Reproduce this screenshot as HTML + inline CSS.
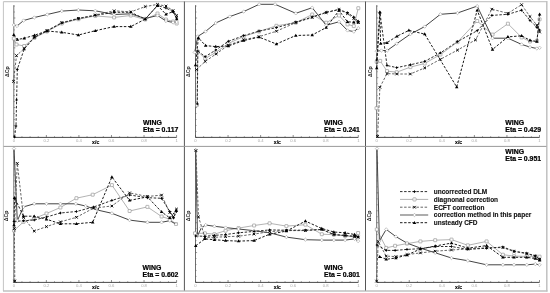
<!DOCTYPE html>
<html><head><meta charset="utf-8"><title>Delta Cp comparison</title>
<style>html,body{margin:0;padding:0;background:#fff;width:550px;height:293px;overflow:hidden;}svg{display:block;}</style>
</head><body>
<svg width="550" height="293" viewBox="0 0 550 293">
<style>
text{font-family:"Liberation Sans",Arial,sans-serif;}
.tk{font-size:4.2px;fill:#a8a8a8;text-anchor:middle;}
.xc{font-size:5.2px;font-weight:bold;fill:#000;stroke:#000;stroke-width:0.12px;}
.dcp{font-size:5.2px;font-weight:bold;fill:#222;text-anchor:middle;}
.wg{font-size:6.9px;font-weight:bold;fill:#000;stroke:#000;stroke-width:0.22px;}
.lg{font-size:6.5px;font-weight:bold;fill:#111;stroke:#111;stroke-width:0.12px;}
</style>
<rect width="550" height="293" fill="#fff"/>
<line x1="3.5" y1="1.7" x2="546.8" y2="1.7" stroke="#c8c8c8" stroke-width="1.3"/><line x1="3.4" y1="1.5" x2="3.4" y2="291" stroke="#c4c4c4" stroke-width="1"/><line x1="546.8" y1="1" x2="546.8" y2="291.6" stroke="#c0c0c0" stroke-width="1.5"/><line x1="3" y1="290.9" x2="547.5" y2="290.9" stroke="#c0c0c0" stroke-width="1.5"/><line x1="184.4" y1="1.5" x2="184.4" y2="290.5" stroke="#555" stroke-width="1"/><line x1="365.5" y1="1.5" x2="365.5" y2="290.5" stroke="#555" stroke-width="1"/><line x1="3.5" y1="146.4" x2="546.5" y2="146.4" stroke="#9a9a9a" stroke-width="1"/>
<line x1="13.8" y1="5.2" x2="13.8" y2="137.4" stroke="#555" stroke-width="0.85"/><line x1="13.8" y1="137.4" x2="15.4" y2="137.4" stroke="#555" stroke-width="0.6"/><line x1="13.8" y1="131.43" x2="14.8" y2="131.43" stroke="#555" stroke-width="0.6"/><line x1="13.8" y1="125.46" x2="14.8" y2="125.46" stroke="#555" stroke-width="0.6"/><line x1="13.8" y1="119.49" x2="14.8" y2="119.49" stroke="#555" stroke-width="0.6"/><line x1="13.8" y1="113.52" x2="14.8" y2="113.52" stroke="#555" stroke-width="0.6"/><line x1="13.8" y1="107.55" x2="15.4" y2="107.55" stroke="#555" stroke-width="0.6"/><line x1="13.8" y1="101.58" x2="14.8" y2="101.58" stroke="#555" stroke-width="0.6"/><line x1="13.8" y1="95.61" x2="14.8" y2="95.61" stroke="#555" stroke-width="0.6"/><line x1="13.8" y1="89.64" x2="14.8" y2="89.64" stroke="#555" stroke-width="0.6"/><line x1="13.8" y1="83.67" x2="14.8" y2="83.67" stroke="#555" stroke-width="0.6"/><line x1="13.8" y1="77.7" x2="15.4" y2="77.7" stroke="#555" stroke-width="0.6"/><line x1="13.8" y1="71.73" x2="14.8" y2="71.73" stroke="#555" stroke-width="0.6"/><line x1="13.8" y1="65.76" x2="14.8" y2="65.76" stroke="#555" stroke-width="0.6"/><line x1="13.8" y1="59.79" x2="14.8" y2="59.79" stroke="#555" stroke-width="0.6"/><line x1="13.8" y1="53.82" x2="14.8" y2="53.82" stroke="#555" stroke-width="0.6"/><line x1="13.8" y1="47.85" x2="15.4" y2="47.85" stroke="#555" stroke-width="0.6"/><line x1="13.8" y1="41.88" x2="14.8" y2="41.88" stroke="#555" stroke-width="0.6"/><line x1="13.8" y1="35.91" x2="14.8" y2="35.91" stroke="#555" stroke-width="0.6"/><line x1="13.8" y1="29.94" x2="14.8" y2="29.94" stroke="#555" stroke-width="0.6"/><line x1="13.8" y1="23.97" x2="14.8" y2="23.97" stroke="#555" stroke-width="0.6"/><line x1="13.8" y1="18" x2="15.4" y2="18" stroke="#555" stroke-width="0.6"/><line x1="13.8" y1="12.03" x2="14.8" y2="12.03" stroke="#555" stroke-width="0.6"/><line x1="13.8" y1="6.06" x2="14.8" y2="6.06" stroke="#555" stroke-width="0.6"/><line x1="13.8" y1="137.4" x2="176.6" y2="137.4" stroke="#333" stroke-width="0.9"/><line x1="13.8" y1="137.4" x2="13.8" y2="135" stroke="#444" stroke-width="0.6"/><line x1="21.94" y1="137.4" x2="21.94" y2="136.3" stroke="#444" stroke-width="0.6"/><line x1="30.08" y1="137.4" x2="30.08" y2="136.3" stroke="#444" stroke-width="0.6"/><line x1="38.22" y1="137.4" x2="38.22" y2="136.3" stroke="#444" stroke-width="0.6"/><line x1="46.36" y1="137.4" x2="46.36" y2="135" stroke="#444" stroke-width="0.6"/><line x1="54.5" y1="137.4" x2="54.5" y2="136.3" stroke="#444" stroke-width="0.6"/><line x1="62.64" y1="137.4" x2="62.64" y2="136.3" stroke="#444" stroke-width="0.6"/><line x1="70.78" y1="137.4" x2="70.78" y2="136.3" stroke="#444" stroke-width="0.6"/><line x1="78.92" y1="137.4" x2="78.92" y2="135" stroke="#444" stroke-width="0.6"/><line x1="87.06" y1="137.4" x2="87.06" y2="136.3" stroke="#444" stroke-width="0.6"/><line x1="95.2" y1="137.4" x2="95.2" y2="136.3" stroke="#444" stroke-width="0.6"/><line x1="103.34" y1="137.4" x2="103.34" y2="136.3" stroke="#444" stroke-width="0.6"/><line x1="111.48" y1="137.4" x2="111.48" y2="135" stroke="#444" stroke-width="0.6"/><line x1="119.62" y1="137.4" x2="119.62" y2="136.3" stroke="#444" stroke-width="0.6"/><line x1="127.76" y1="137.4" x2="127.76" y2="136.3" stroke="#444" stroke-width="0.6"/><line x1="135.9" y1="137.4" x2="135.9" y2="136.3" stroke="#444" stroke-width="0.6"/><line x1="144.04" y1="137.4" x2="144.04" y2="135" stroke="#444" stroke-width="0.6"/><line x1="152.18" y1="137.4" x2="152.18" y2="136.3" stroke="#444" stroke-width="0.6"/><line x1="160.32" y1="137.4" x2="160.32" y2="136.3" stroke="#444" stroke-width="0.6"/><line x1="168.46" y1="137.4" x2="168.46" y2="136.3" stroke="#444" stroke-width="0.6"/><line x1="176.6" y1="137.4" x2="176.6" y2="135" stroke="#444" stroke-width="0.6"/><line x1="195.5" y1="5.2" x2="195.5" y2="137.4" stroke="#555" stroke-width="0.85"/><line x1="195.5" y1="137.4" x2="197.1" y2="137.4" stroke="#555" stroke-width="0.6"/><line x1="195.5" y1="131.43" x2="196.5" y2="131.43" stroke="#555" stroke-width="0.6"/><line x1="195.5" y1="125.46" x2="196.5" y2="125.46" stroke="#555" stroke-width="0.6"/><line x1="195.5" y1="119.49" x2="196.5" y2="119.49" stroke="#555" stroke-width="0.6"/><line x1="195.5" y1="113.52" x2="196.5" y2="113.52" stroke="#555" stroke-width="0.6"/><line x1="195.5" y1="107.55" x2="197.1" y2="107.55" stroke="#555" stroke-width="0.6"/><line x1="195.5" y1="101.58" x2="196.5" y2="101.58" stroke="#555" stroke-width="0.6"/><line x1="195.5" y1="95.61" x2="196.5" y2="95.61" stroke="#555" stroke-width="0.6"/><line x1="195.5" y1="89.64" x2="196.5" y2="89.64" stroke="#555" stroke-width="0.6"/><line x1="195.5" y1="83.67" x2="196.5" y2="83.67" stroke="#555" stroke-width="0.6"/><line x1="195.5" y1="77.7" x2="197.1" y2="77.7" stroke="#555" stroke-width="0.6"/><line x1="195.5" y1="71.73" x2="196.5" y2="71.73" stroke="#555" stroke-width="0.6"/><line x1="195.5" y1="65.76" x2="196.5" y2="65.76" stroke="#555" stroke-width="0.6"/><line x1="195.5" y1="59.79" x2="196.5" y2="59.79" stroke="#555" stroke-width="0.6"/><line x1="195.5" y1="53.82" x2="196.5" y2="53.82" stroke="#555" stroke-width="0.6"/><line x1="195.5" y1="47.85" x2="197.1" y2="47.85" stroke="#555" stroke-width="0.6"/><line x1="195.5" y1="41.88" x2="196.5" y2="41.88" stroke="#555" stroke-width="0.6"/><line x1="195.5" y1="35.91" x2="196.5" y2="35.91" stroke="#555" stroke-width="0.6"/><line x1="195.5" y1="29.94" x2="196.5" y2="29.94" stroke="#555" stroke-width="0.6"/><line x1="195.5" y1="23.97" x2="196.5" y2="23.97" stroke="#555" stroke-width="0.6"/><line x1="195.5" y1="18" x2="197.1" y2="18" stroke="#555" stroke-width="0.6"/><line x1="195.5" y1="12.03" x2="196.5" y2="12.03" stroke="#555" stroke-width="0.6"/><line x1="195.5" y1="6.06" x2="196.5" y2="6.06" stroke="#555" stroke-width="0.6"/><line x1="195.5" y1="137.4" x2="358.3" y2="137.4" stroke="#333" stroke-width="0.9"/><line x1="195.5" y1="137.4" x2="195.5" y2="135" stroke="#444" stroke-width="0.6"/><line x1="203.64" y1="137.4" x2="203.64" y2="136.3" stroke="#444" stroke-width="0.6"/><line x1="211.78" y1="137.4" x2="211.78" y2="136.3" stroke="#444" stroke-width="0.6"/><line x1="219.92" y1="137.4" x2="219.92" y2="136.3" stroke="#444" stroke-width="0.6"/><line x1="228.06" y1="137.4" x2="228.06" y2="135" stroke="#444" stroke-width="0.6"/><line x1="236.2" y1="137.4" x2="236.2" y2="136.3" stroke="#444" stroke-width="0.6"/><line x1="244.34" y1="137.4" x2="244.34" y2="136.3" stroke="#444" stroke-width="0.6"/><line x1="252.48" y1="137.4" x2="252.48" y2="136.3" stroke="#444" stroke-width="0.6"/><line x1="260.62" y1="137.4" x2="260.62" y2="135" stroke="#444" stroke-width="0.6"/><line x1="268.76" y1="137.4" x2="268.76" y2="136.3" stroke="#444" stroke-width="0.6"/><line x1="276.9" y1="137.4" x2="276.9" y2="136.3" stroke="#444" stroke-width="0.6"/><line x1="285.04" y1="137.4" x2="285.04" y2="136.3" stroke="#444" stroke-width="0.6"/><line x1="293.18" y1="137.4" x2="293.18" y2="135" stroke="#444" stroke-width="0.6"/><line x1="301.32" y1="137.4" x2="301.32" y2="136.3" stroke="#444" stroke-width="0.6"/><line x1="309.46" y1="137.4" x2="309.46" y2="136.3" stroke="#444" stroke-width="0.6"/><line x1="317.6" y1="137.4" x2="317.6" y2="136.3" stroke="#444" stroke-width="0.6"/><line x1="325.74" y1="137.4" x2="325.74" y2="135" stroke="#444" stroke-width="0.6"/><line x1="333.88" y1="137.4" x2="333.88" y2="136.3" stroke="#444" stroke-width="0.6"/><line x1="342.02" y1="137.4" x2="342.02" y2="136.3" stroke="#444" stroke-width="0.6"/><line x1="350.16" y1="137.4" x2="350.16" y2="136.3" stroke="#444" stroke-width="0.6"/><line x1="358.3" y1="137.4" x2="358.3" y2="135" stroke="#444" stroke-width="0.6"/><line x1="376.7" y1="5.2" x2="376.7" y2="137.4" stroke="#555" stroke-width="0.85"/><line x1="376.7" y1="137.4" x2="378.3" y2="137.4" stroke="#555" stroke-width="0.6"/><line x1="376.7" y1="131.43" x2="377.7" y2="131.43" stroke="#555" stroke-width="0.6"/><line x1="376.7" y1="125.46" x2="377.7" y2="125.46" stroke="#555" stroke-width="0.6"/><line x1="376.7" y1="119.49" x2="377.7" y2="119.49" stroke="#555" stroke-width="0.6"/><line x1="376.7" y1="113.52" x2="377.7" y2="113.52" stroke="#555" stroke-width="0.6"/><line x1="376.7" y1="107.55" x2="378.3" y2="107.55" stroke="#555" stroke-width="0.6"/><line x1="376.7" y1="101.58" x2="377.7" y2="101.58" stroke="#555" stroke-width="0.6"/><line x1="376.7" y1="95.61" x2="377.7" y2="95.61" stroke="#555" stroke-width="0.6"/><line x1="376.7" y1="89.64" x2="377.7" y2="89.64" stroke="#555" stroke-width="0.6"/><line x1="376.7" y1="83.67" x2="377.7" y2="83.67" stroke="#555" stroke-width="0.6"/><line x1="376.7" y1="77.7" x2="378.3" y2="77.7" stroke="#555" stroke-width="0.6"/><line x1="376.7" y1="71.73" x2="377.7" y2="71.73" stroke="#555" stroke-width="0.6"/><line x1="376.7" y1="65.76" x2="377.7" y2="65.76" stroke="#555" stroke-width="0.6"/><line x1="376.7" y1="59.79" x2="377.7" y2="59.79" stroke="#555" stroke-width="0.6"/><line x1="376.7" y1="53.82" x2="377.7" y2="53.82" stroke="#555" stroke-width="0.6"/><line x1="376.7" y1="47.85" x2="378.3" y2="47.85" stroke="#555" stroke-width="0.6"/><line x1="376.7" y1="41.88" x2="377.7" y2="41.88" stroke="#555" stroke-width="0.6"/><line x1="376.7" y1="35.91" x2="377.7" y2="35.91" stroke="#555" stroke-width="0.6"/><line x1="376.7" y1="29.94" x2="377.7" y2="29.94" stroke="#555" stroke-width="0.6"/><line x1="376.7" y1="23.97" x2="377.7" y2="23.97" stroke="#555" stroke-width="0.6"/><line x1="376.7" y1="18" x2="378.3" y2="18" stroke="#555" stroke-width="0.6"/><line x1="376.7" y1="12.03" x2="377.7" y2="12.03" stroke="#555" stroke-width="0.6"/><line x1="376.7" y1="6.06" x2="377.7" y2="6.06" stroke="#555" stroke-width="0.6"/><line x1="376.7" y1="137.4" x2="539.5" y2="137.4" stroke="#333" stroke-width="0.9"/><line x1="376.7" y1="137.4" x2="376.7" y2="135" stroke="#444" stroke-width="0.6"/><line x1="384.84" y1="137.4" x2="384.84" y2="136.3" stroke="#444" stroke-width="0.6"/><line x1="392.98" y1="137.4" x2="392.98" y2="136.3" stroke="#444" stroke-width="0.6"/><line x1="401.12" y1="137.4" x2="401.12" y2="136.3" stroke="#444" stroke-width="0.6"/><line x1="409.26" y1="137.4" x2="409.26" y2="135" stroke="#444" stroke-width="0.6"/><line x1="417.4" y1="137.4" x2="417.4" y2="136.3" stroke="#444" stroke-width="0.6"/><line x1="425.54" y1="137.4" x2="425.54" y2="136.3" stroke="#444" stroke-width="0.6"/><line x1="433.68" y1="137.4" x2="433.68" y2="136.3" stroke="#444" stroke-width="0.6"/><line x1="441.82" y1="137.4" x2="441.82" y2="135" stroke="#444" stroke-width="0.6"/><line x1="449.96" y1="137.4" x2="449.96" y2="136.3" stroke="#444" stroke-width="0.6"/><line x1="458.1" y1="137.4" x2="458.1" y2="136.3" stroke="#444" stroke-width="0.6"/><line x1="466.24" y1="137.4" x2="466.24" y2="136.3" stroke="#444" stroke-width="0.6"/><line x1="474.38" y1="137.4" x2="474.38" y2="135" stroke="#444" stroke-width="0.6"/><line x1="482.52" y1="137.4" x2="482.52" y2="136.3" stroke="#444" stroke-width="0.6"/><line x1="490.66" y1="137.4" x2="490.66" y2="136.3" stroke="#444" stroke-width="0.6"/><line x1="498.8" y1="137.4" x2="498.8" y2="136.3" stroke="#444" stroke-width="0.6"/><line x1="506.94" y1="137.4" x2="506.94" y2="135" stroke="#444" stroke-width="0.6"/><line x1="515.08" y1="137.4" x2="515.08" y2="136.3" stroke="#444" stroke-width="0.6"/><line x1="523.22" y1="137.4" x2="523.22" y2="136.3" stroke="#444" stroke-width="0.6"/><line x1="531.36" y1="137.4" x2="531.36" y2="136.3" stroke="#444" stroke-width="0.6"/><line x1="539.5" y1="137.4" x2="539.5" y2="135" stroke="#444" stroke-width="0.6"/><line x1="13.8" y1="148.6" x2="13.8" y2="282.4" stroke="#555" stroke-width="0.85"/><line x1="13.8" y1="282.4" x2="15.4" y2="282.4" stroke="#555" stroke-width="0.6"/><line x1="13.8" y1="276.43" x2="14.8" y2="276.43" stroke="#555" stroke-width="0.6"/><line x1="13.8" y1="270.46" x2="14.8" y2="270.46" stroke="#555" stroke-width="0.6"/><line x1="13.8" y1="264.49" x2="14.8" y2="264.49" stroke="#555" stroke-width="0.6"/><line x1="13.8" y1="258.52" x2="14.8" y2="258.52" stroke="#555" stroke-width="0.6"/><line x1="13.8" y1="252.55" x2="15.4" y2="252.55" stroke="#555" stroke-width="0.6"/><line x1="13.8" y1="246.58" x2="14.8" y2="246.58" stroke="#555" stroke-width="0.6"/><line x1="13.8" y1="240.61" x2="14.8" y2="240.61" stroke="#555" stroke-width="0.6"/><line x1="13.8" y1="234.64" x2="14.8" y2="234.64" stroke="#555" stroke-width="0.6"/><line x1="13.8" y1="228.67" x2="14.8" y2="228.67" stroke="#555" stroke-width="0.6"/><line x1="13.8" y1="222.7" x2="15.4" y2="222.7" stroke="#555" stroke-width="0.6"/><line x1="13.8" y1="216.73" x2="14.8" y2="216.73" stroke="#555" stroke-width="0.6"/><line x1="13.8" y1="210.76" x2="14.8" y2="210.76" stroke="#555" stroke-width="0.6"/><line x1="13.8" y1="204.79" x2="14.8" y2="204.79" stroke="#555" stroke-width="0.6"/><line x1="13.8" y1="198.82" x2="14.8" y2="198.82" stroke="#555" stroke-width="0.6"/><line x1="13.8" y1="192.85" x2="15.4" y2="192.85" stroke="#555" stroke-width="0.6"/><line x1="13.8" y1="186.88" x2="14.8" y2="186.88" stroke="#555" stroke-width="0.6"/><line x1="13.8" y1="180.91" x2="14.8" y2="180.91" stroke="#555" stroke-width="0.6"/><line x1="13.8" y1="174.94" x2="14.8" y2="174.94" stroke="#555" stroke-width="0.6"/><line x1="13.8" y1="168.97" x2="14.8" y2="168.97" stroke="#555" stroke-width="0.6"/><line x1="13.8" y1="163" x2="15.4" y2="163" stroke="#555" stroke-width="0.6"/><line x1="13.8" y1="157.03" x2="14.8" y2="157.03" stroke="#555" stroke-width="0.6"/><line x1="13.8" y1="151.06" x2="14.8" y2="151.06" stroke="#555" stroke-width="0.6"/><line x1="13.8" y1="282.4" x2="176.6" y2="282.4" stroke="#333" stroke-width="0.9"/><line x1="13.8" y1="282.4" x2="13.8" y2="280" stroke="#444" stroke-width="0.6"/><line x1="21.94" y1="282.4" x2="21.94" y2="281.3" stroke="#444" stroke-width="0.6"/><line x1="30.08" y1="282.4" x2="30.08" y2="281.3" stroke="#444" stroke-width="0.6"/><line x1="38.22" y1="282.4" x2="38.22" y2="281.3" stroke="#444" stroke-width="0.6"/><line x1="46.36" y1="282.4" x2="46.36" y2="280" stroke="#444" stroke-width="0.6"/><line x1="54.5" y1="282.4" x2="54.5" y2="281.3" stroke="#444" stroke-width="0.6"/><line x1="62.64" y1="282.4" x2="62.64" y2="281.3" stroke="#444" stroke-width="0.6"/><line x1="70.78" y1="282.4" x2="70.78" y2="281.3" stroke="#444" stroke-width="0.6"/><line x1="78.92" y1="282.4" x2="78.92" y2="280" stroke="#444" stroke-width="0.6"/><line x1="87.06" y1="282.4" x2="87.06" y2="281.3" stroke="#444" stroke-width="0.6"/><line x1="95.2" y1="282.4" x2="95.2" y2="281.3" stroke="#444" stroke-width="0.6"/><line x1="103.34" y1="282.4" x2="103.34" y2="281.3" stroke="#444" stroke-width="0.6"/><line x1="111.48" y1="282.4" x2="111.48" y2="280" stroke="#444" stroke-width="0.6"/><line x1="119.62" y1="282.4" x2="119.62" y2="281.3" stroke="#444" stroke-width="0.6"/><line x1="127.76" y1="282.4" x2="127.76" y2="281.3" stroke="#444" stroke-width="0.6"/><line x1="135.9" y1="282.4" x2="135.9" y2="281.3" stroke="#444" stroke-width="0.6"/><line x1="144.04" y1="282.4" x2="144.04" y2="280" stroke="#444" stroke-width="0.6"/><line x1="152.18" y1="282.4" x2="152.18" y2="281.3" stroke="#444" stroke-width="0.6"/><line x1="160.32" y1="282.4" x2="160.32" y2="281.3" stroke="#444" stroke-width="0.6"/><line x1="168.46" y1="282.4" x2="168.46" y2="281.3" stroke="#444" stroke-width="0.6"/><line x1="176.6" y1="282.4" x2="176.6" y2="280" stroke="#444" stroke-width="0.6"/><line x1="195.5" y1="148.6" x2="195.5" y2="282.4" stroke="#555" stroke-width="0.85"/><line x1="195.5" y1="282.4" x2="197.1" y2="282.4" stroke="#555" stroke-width="0.6"/><line x1="195.5" y1="276.43" x2="196.5" y2="276.43" stroke="#555" stroke-width="0.6"/><line x1="195.5" y1="270.46" x2="196.5" y2="270.46" stroke="#555" stroke-width="0.6"/><line x1="195.5" y1="264.49" x2="196.5" y2="264.49" stroke="#555" stroke-width="0.6"/><line x1="195.5" y1="258.52" x2="196.5" y2="258.52" stroke="#555" stroke-width="0.6"/><line x1="195.5" y1="252.55" x2="197.1" y2="252.55" stroke="#555" stroke-width="0.6"/><line x1="195.5" y1="246.58" x2="196.5" y2="246.58" stroke="#555" stroke-width="0.6"/><line x1="195.5" y1="240.61" x2="196.5" y2="240.61" stroke="#555" stroke-width="0.6"/><line x1="195.5" y1="234.64" x2="196.5" y2="234.64" stroke="#555" stroke-width="0.6"/><line x1="195.5" y1="228.67" x2="196.5" y2="228.67" stroke="#555" stroke-width="0.6"/><line x1="195.5" y1="222.7" x2="197.1" y2="222.7" stroke="#555" stroke-width="0.6"/><line x1="195.5" y1="216.73" x2="196.5" y2="216.73" stroke="#555" stroke-width="0.6"/><line x1="195.5" y1="210.76" x2="196.5" y2="210.76" stroke="#555" stroke-width="0.6"/><line x1="195.5" y1="204.79" x2="196.5" y2="204.79" stroke="#555" stroke-width="0.6"/><line x1="195.5" y1="198.82" x2="196.5" y2="198.82" stroke="#555" stroke-width="0.6"/><line x1="195.5" y1="192.85" x2="197.1" y2="192.85" stroke="#555" stroke-width="0.6"/><line x1="195.5" y1="186.88" x2="196.5" y2="186.88" stroke="#555" stroke-width="0.6"/><line x1="195.5" y1="180.91" x2="196.5" y2="180.91" stroke="#555" stroke-width="0.6"/><line x1="195.5" y1="174.94" x2="196.5" y2="174.94" stroke="#555" stroke-width="0.6"/><line x1="195.5" y1="168.97" x2="196.5" y2="168.97" stroke="#555" stroke-width="0.6"/><line x1="195.5" y1="163" x2="197.1" y2="163" stroke="#555" stroke-width="0.6"/><line x1="195.5" y1="157.03" x2="196.5" y2="157.03" stroke="#555" stroke-width="0.6"/><line x1="195.5" y1="151.06" x2="196.5" y2="151.06" stroke="#555" stroke-width="0.6"/><line x1="195.5" y1="282.4" x2="358.3" y2="282.4" stroke="#333" stroke-width="0.9"/><line x1="195.5" y1="282.4" x2="195.5" y2="280" stroke="#444" stroke-width="0.6"/><line x1="203.64" y1="282.4" x2="203.64" y2="281.3" stroke="#444" stroke-width="0.6"/><line x1="211.78" y1="282.4" x2="211.78" y2="281.3" stroke="#444" stroke-width="0.6"/><line x1="219.92" y1="282.4" x2="219.92" y2="281.3" stroke="#444" stroke-width="0.6"/><line x1="228.06" y1="282.4" x2="228.06" y2="280" stroke="#444" stroke-width="0.6"/><line x1="236.2" y1="282.4" x2="236.2" y2="281.3" stroke="#444" stroke-width="0.6"/><line x1="244.34" y1="282.4" x2="244.34" y2="281.3" stroke="#444" stroke-width="0.6"/><line x1="252.48" y1="282.4" x2="252.48" y2="281.3" stroke="#444" stroke-width="0.6"/><line x1="260.62" y1="282.4" x2="260.62" y2="280" stroke="#444" stroke-width="0.6"/><line x1="268.76" y1="282.4" x2="268.76" y2="281.3" stroke="#444" stroke-width="0.6"/><line x1="276.9" y1="282.4" x2="276.9" y2="281.3" stroke="#444" stroke-width="0.6"/><line x1="285.04" y1="282.4" x2="285.04" y2="281.3" stroke="#444" stroke-width="0.6"/><line x1="293.18" y1="282.4" x2="293.18" y2="280" stroke="#444" stroke-width="0.6"/><line x1="301.32" y1="282.4" x2="301.32" y2="281.3" stroke="#444" stroke-width="0.6"/><line x1="309.46" y1="282.4" x2="309.46" y2="281.3" stroke="#444" stroke-width="0.6"/><line x1="317.6" y1="282.4" x2="317.6" y2="281.3" stroke="#444" stroke-width="0.6"/><line x1="325.74" y1="282.4" x2="325.74" y2="280" stroke="#444" stroke-width="0.6"/><line x1="333.88" y1="282.4" x2="333.88" y2="281.3" stroke="#444" stroke-width="0.6"/><line x1="342.02" y1="282.4" x2="342.02" y2="281.3" stroke="#444" stroke-width="0.6"/><line x1="350.16" y1="282.4" x2="350.16" y2="281.3" stroke="#444" stroke-width="0.6"/><line x1="358.3" y1="282.4" x2="358.3" y2="280" stroke="#444" stroke-width="0.6"/><line x1="376.7" y1="148.6" x2="376.7" y2="282.4" stroke="#555" stroke-width="0.85"/><line x1="376.7" y1="282.4" x2="378.3" y2="282.4" stroke="#555" stroke-width="0.6"/><line x1="376.7" y1="276.43" x2="377.7" y2="276.43" stroke="#555" stroke-width="0.6"/><line x1="376.7" y1="270.46" x2="377.7" y2="270.46" stroke="#555" stroke-width="0.6"/><line x1="376.7" y1="264.49" x2="377.7" y2="264.49" stroke="#555" stroke-width="0.6"/><line x1="376.7" y1="258.52" x2="377.7" y2="258.52" stroke="#555" stroke-width="0.6"/><line x1="376.7" y1="252.55" x2="378.3" y2="252.55" stroke="#555" stroke-width="0.6"/><line x1="376.7" y1="246.58" x2="377.7" y2="246.58" stroke="#555" stroke-width="0.6"/><line x1="376.7" y1="240.61" x2="377.7" y2="240.61" stroke="#555" stroke-width="0.6"/><line x1="376.7" y1="234.64" x2="377.7" y2="234.64" stroke="#555" stroke-width="0.6"/><line x1="376.7" y1="228.67" x2="377.7" y2="228.67" stroke="#555" stroke-width="0.6"/><line x1="376.7" y1="222.7" x2="378.3" y2="222.7" stroke="#555" stroke-width="0.6"/><line x1="376.7" y1="216.73" x2="377.7" y2="216.73" stroke="#555" stroke-width="0.6"/><line x1="376.7" y1="210.76" x2="377.7" y2="210.76" stroke="#555" stroke-width="0.6"/><line x1="376.7" y1="204.79" x2="377.7" y2="204.79" stroke="#555" stroke-width="0.6"/><line x1="376.7" y1="198.82" x2="377.7" y2="198.82" stroke="#555" stroke-width="0.6"/><line x1="376.7" y1="192.85" x2="378.3" y2="192.85" stroke="#555" stroke-width="0.6"/><line x1="376.7" y1="186.88" x2="377.7" y2="186.88" stroke="#555" stroke-width="0.6"/><line x1="376.7" y1="180.91" x2="377.7" y2="180.91" stroke="#555" stroke-width="0.6"/><line x1="376.7" y1="174.94" x2="377.7" y2="174.94" stroke="#555" stroke-width="0.6"/><line x1="376.7" y1="168.97" x2="377.7" y2="168.97" stroke="#555" stroke-width="0.6"/><line x1="376.7" y1="163" x2="378.3" y2="163" stroke="#555" stroke-width="0.6"/><line x1="376.7" y1="157.03" x2="377.7" y2="157.03" stroke="#555" stroke-width="0.6"/><line x1="376.7" y1="151.06" x2="377.7" y2="151.06" stroke="#555" stroke-width="0.6"/><line x1="376.7" y1="282.4" x2="539.5" y2="282.4" stroke="#333" stroke-width="0.9"/><line x1="376.7" y1="282.4" x2="376.7" y2="280" stroke="#444" stroke-width="0.6"/><line x1="384.84" y1="282.4" x2="384.84" y2="281.3" stroke="#444" stroke-width="0.6"/><line x1="392.98" y1="282.4" x2="392.98" y2="281.3" stroke="#444" stroke-width="0.6"/><line x1="401.12" y1="282.4" x2="401.12" y2="281.3" stroke="#444" stroke-width="0.6"/><line x1="409.26" y1="282.4" x2="409.26" y2="280" stroke="#444" stroke-width="0.6"/><line x1="417.4" y1="282.4" x2="417.4" y2="281.3" stroke="#444" stroke-width="0.6"/><line x1="425.54" y1="282.4" x2="425.54" y2="281.3" stroke="#444" stroke-width="0.6"/><line x1="433.68" y1="282.4" x2="433.68" y2="281.3" stroke="#444" stroke-width="0.6"/><line x1="441.82" y1="282.4" x2="441.82" y2="280" stroke="#444" stroke-width="0.6"/><line x1="449.96" y1="282.4" x2="449.96" y2="281.3" stroke="#444" stroke-width="0.6"/><line x1="458.1" y1="282.4" x2="458.1" y2="281.3" stroke="#444" stroke-width="0.6"/><line x1="466.24" y1="282.4" x2="466.24" y2="281.3" stroke="#444" stroke-width="0.6"/><line x1="474.38" y1="282.4" x2="474.38" y2="280" stroke="#444" stroke-width="0.6"/><line x1="482.52" y1="282.4" x2="482.52" y2="281.3" stroke="#444" stroke-width="0.6"/><line x1="490.66" y1="282.4" x2="490.66" y2="281.3" stroke="#444" stroke-width="0.6"/><line x1="498.8" y1="282.4" x2="498.8" y2="281.3" stroke="#444" stroke-width="0.6"/><line x1="506.94" y1="282.4" x2="506.94" y2="280" stroke="#444" stroke-width="0.6"/><line x1="515.08" y1="282.4" x2="515.08" y2="281.3" stroke="#444" stroke-width="0.6"/><line x1="523.22" y1="282.4" x2="523.22" y2="281.3" stroke="#444" stroke-width="0.6"/><line x1="531.36" y1="282.4" x2="531.36" y2="281.3" stroke="#444" stroke-width="0.6"/><line x1="539.5" y1="282.4" x2="539.5" y2="280" stroke="#444" stroke-width="0.6"/>
<polyline points="13.8,38.5 16.5,44.5 24.2,46 34.5,37.8 46.9,31.5 61.8,23.5 78.4,19.2 95.3,15.9 114.1,17.4 130.8,15.5 145.2,19.5 157.5,13.5 166,19.5 173.1,21.5 176.7,23.5" fill="none" stroke="#999" stroke-width="0.75" stroke-linejoin="round"/><rect x="12.3" y="37" width="3" height="3" rx="0.3" fill="#fff" stroke="#888" stroke-width="0.6"/><rect x="15" y="43" width="3" height="3" rx="0.3" fill="#fff" stroke="#888" stroke-width="0.6"/><rect x="22.7" y="44.5" width="3" height="3" rx="0.3" fill="#fff" stroke="#888" stroke-width="0.6"/><rect x="33" y="36.3" width="3" height="3" rx="0.3" fill="#fff" stroke="#888" stroke-width="0.6"/><rect x="45.4" y="30" width="3" height="3" rx="0.3" fill="#fff" stroke="#888" stroke-width="0.6"/><rect x="60.3" y="22" width="3" height="3" rx="0.3" fill="#fff" stroke="#888" stroke-width="0.6"/><rect x="76.9" y="17.7" width="3" height="3" rx="0.3" fill="#fff" stroke="#888" stroke-width="0.6"/><rect x="93.8" y="14.4" width="3" height="3" rx="0.3" fill="#fff" stroke="#888" stroke-width="0.6"/><rect x="112.6" y="15.9" width="3" height="3" rx="0.3" fill="#fff" stroke="#888" stroke-width="0.6"/><rect x="129.3" y="14" width="3" height="3" rx="0.3" fill="#fff" stroke="#888" stroke-width="0.6"/><rect x="143.7" y="18" width="3" height="3" rx="0.3" fill="#fff" stroke="#888" stroke-width="0.6"/><rect x="156" y="12" width="3" height="3" rx="0.3" fill="#fff" stroke="#888" stroke-width="0.6"/><rect x="164.5" y="18" width="3" height="3" rx="0.3" fill="#fff" stroke="#888" stroke-width="0.6"/><rect x="171.6" y="20" width="3" height="3" rx="0.3" fill="#fff" stroke="#888" stroke-width="0.6"/><rect x="175.2" y="22" width="3" height="3" rx="0.3" fill="#fff" stroke="#888" stroke-width="0.6"/><polyline points="13.8,25 17,26 23.6,20.5 34.3,17.5 47.2,14.5 61.8,11.1 78.4,10 95.3,10.8 114.1,14.5 130.8,13.8 145.2,18.5 157.5,15.5 166,21 173.1,22.5 176.7,22" fill="none" stroke="#444" stroke-width="1.0" stroke-linejoin="round"/><path d="M13.8,23.3l1.7,1.7l-1.7,1.7l-1.7,-1.7z" fill="#fff" stroke="#999" stroke-width="0.55"/><path d="M17,24.3l1.7,1.7l-1.7,1.7l-1.7,-1.7z" fill="#fff" stroke="#999" stroke-width="0.55"/><path d="M23.6,18.8l1.7,1.7l-1.7,1.7l-1.7,-1.7z" fill="#fff" stroke="#999" stroke-width="0.55"/><path d="M34.3,15.8l1.7,1.7l-1.7,1.7l-1.7,-1.7z" fill="#fff" stroke="#999" stroke-width="0.55"/><path d="M47.2,12.8l1.7,1.7l-1.7,1.7l-1.7,-1.7z" fill="#fff" stroke="#999" stroke-width="0.55"/><path d="M61.8,9.4l1.7,1.7l-1.7,1.7l-1.7,-1.7z" fill="#fff" stroke="#999" stroke-width="0.55"/><path d="M78.4,8.3l1.7,1.7l-1.7,1.7l-1.7,-1.7z" fill="#fff" stroke="#999" stroke-width="0.55"/><path d="M95.3,9.1l1.7,1.7l-1.7,1.7l-1.7,-1.7z" fill="#fff" stroke="#999" stroke-width="0.55"/><path d="M114.1,12.8l1.7,1.7l-1.7,1.7l-1.7,-1.7z" fill="#fff" stroke="#999" stroke-width="0.55"/><path d="M130.8,12.1l1.7,1.7l-1.7,1.7l-1.7,-1.7z" fill="#fff" stroke="#999" stroke-width="0.55"/><path d="M145.2,16.8l1.7,1.7l-1.7,1.7l-1.7,-1.7z" fill="#fff" stroke="#999" stroke-width="0.55"/><path d="M157.5,13.8l1.7,1.7l-1.7,1.7l-1.7,-1.7z" fill="#fff" stroke="#999" stroke-width="0.55"/><path d="M166,19.3l1.7,1.7l-1.7,1.7l-1.7,-1.7z" fill="#fff" stroke="#999" stroke-width="0.55"/><path d="M173.1,20.8l1.7,1.7l-1.7,1.7l-1.7,-1.7z" fill="#fff" stroke="#999" stroke-width="0.55"/><path d="M176.7,20.3l1.7,1.7l-1.7,1.7l-1.7,-1.7z" fill="#fff" stroke="#999" stroke-width="0.55"/><polyline points="13.5,81.4 16.5,55.6 24.2,48.6 34.5,37.1 46.9,30.6 61.8,22.6 78.4,18.3 95.3,15 114.1,10.8 130.8,11.9 145.2,6.6 157.5,4.4 166,6.1 173.1,10.6 176.7,15.6" fill="none" stroke="#555" stroke-width="0.9" stroke-dasharray="2.5,1.6" stroke-linejoin="round"/><path d="M12.2,80.1l2.6,2.6M12.2,82.7l2.6,-2.6" stroke="#000" stroke-width="0.95"/><path d="M15.2,54.3l2.6,2.6M15.2,56.9l2.6,-2.6" stroke="#000" stroke-width="0.95"/><path d="M22.9,47.3l2.6,2.6M22.9,49.9l2.6,-2.6" stroke="#000" stroke-width="0.95"/><path d="M33.2,35.8l2.6,2.6M33.2,38.4l2.6,-2.6" stroke="#000" stroke-width="0.95"/><path d="M45.6,29.3l2.6,2.6M45.6,31.9l2.6,-2.6" stroke="#000" stroke-width="0.95"/><path d="M60.5,21.3l2.6,2.6M60.5,23.9l2.6,-2.6" stroke="#000" stroke-width="0.95"/><path d="M77.1,17l2.6,2.6M77.1,19.6l2.6,-2.6" stroke="#000" stroke-width="0.95"/><path d="M94,13.7l2.6,2.6M94,16.3l2.6,-2.6" stroke="#000" stroke-width="0.95"/><path d="M112.8,9.5l2.6,2.6M112.8,12.1l2.6,-2.6" stroke="#000" stroke-width="0.95"/><path d="M129.5,10.6l2.6,2.6M129.5,13.2l2.6,-2.6" stroke="#000" stroke-width="0.95"/><path d="M143.9,5.3l2.6,2.6M143.9,7.9l2.6,-2.6" stroke="#000" stroke-width="0.95"/><path d="M156.2,3.1l2.6,2.6M156.2,5.7l2.6,-2.6" stroke="#000" stroke-width="0.95"/><path d="M164.7,4.8l2.6,2.6M164.7,7.4l2.6,-2.6" stroke="#000" stroke-width="0.95"/><path d="M171.8,9.3l2.6,2.6M171.8,11.9l2.6,-2.6" stroke="#000" stroke-width="0.95"/><path d="M175.4,14.3l2.6,2.6M175.4,16.9l2.6,-2.6" stroke="#000" stroke-width="0.95"/><polyline points="14.6,137 16,126 16.6,100 17.3,69.3 24.2,49 34.5,37.3 46.9,31 61.8,23 78.4,18.7 95.3,15.4 114.1,12.3 130.8,12.3 145.2,19.1 157.5,5.5 166,8 173.1,11.6 176.7,18" fill="none" stroke="#222" stroke-width="0.95" stroke-dasharray="2.5,1.6" stroke-linejoin="round"/><path d="M14.6,135.3l0.6,1.1l1.1,0.6l-1.1,0.6l-0.6,1.1l-0.6,-1.1l-1.1,-0.6l1.1,-0.6z" fill="#000"/><path d="M16,124.3l0.6,1.1l1.1,0.6l-1.1,0.6l-0.6,1.1l-0.6,-1.1l-1.1,-0.6l1.1,-0.6z" fill="#000"/><path d="M16.6,98.3l0.6,1.1l1.1,0.6l-1.1,0.6l-0.6,1.1l-0.6,-1.1l-1.1,-0.6l1.1,-0.6z" fill="#000"/><path d="M17.3,67.6l0.6,1.1l1.1,0.6l-1.1,0.6l-0.6,1.1l-0.6,-1.1l-1.1,-0.6l1.1,-0.6z" fill="#000"/><path d="M24.2,47.3l0.6,1.1l1.1,0.6l-1.1,0.6l-0.6,1.1l-0.6,-1.1l-1.1,-0.6l1.1,-0.6z" fill="#000"/><path d="M34.5,35.6l0.6,1.1l1.1,0.6l-1.1,0.6l-0.6,1.1l-0.6,-1.1l-1.1,-0.6l1.1,-0.6z" fill="#000"/><path d="M46.9,29.3l0.6,1.1l1.1,0.6l-1.1,0.6l-0.6,1.1l-0.6,-1.1l-1.1,-0.6l1.1,-0.6z" fill="#000"/><path d="M61.8,21.3l0.6,1.1l1.1,0.6l-1.1,0.6l-0.6,1.1l-0.6,-1.1l-1.1,-0.6l1.1,-0.6z" fill="#000"/><path d="M78.4,17l0.6,1.1l1.1,0.6l-1.1,0.6l-0.6,1.1l-0.6,-1.1l-1.1,-0.6l1.1,-0.6z" fill="#000"/><path d="M95.3,13.7l0.6,1.1l1.1,0.6l-1.1,0.6l-0.6,1.1l-0.6,-1.1l-1.1,-0.6l1.1,-0.6z" fill="#000"/><path d="M114.1,10.6l0.6,1.1l1.1,0.6l-1.1,0.6l-0.6,1.1l-0.6,-1.1l-1.1,-0.6l1.1,-0.6z" fill="#000"/><path d="M130.8,10.6l0.6,1.1l1.1,0.6l-1.1,0.6l-0.6,1.1l-0.6,-1.1l-1.1,-0.6l1.1,-0.6z" fill="#000"/><path d="M145.2,17.4l0.6,1.1l1.1,0.6l-1.1,0.6l-0.6,1.1l-0.6,-1.1l-1.1,-0.6l1.1,-0.6z" fill="#000"/><path d="M157.5,3.8l0.6,1.1l1.1,0.6l-1.1,0.6l-0.6,1.1l-0.6,-1.1l-1.1,-0.6l1.1,-0.6z" fill="#000"/><path d="M166,6.3l0.6,1.1l1.1,0.6l-1.1,0.6l-0.6,1.1l-0.6,-1.1l-1.1,-0.6l1.1,-0.6z" fill="#000"/><path d="M173.1,9.9l0.6,1.1l1.1,0.6l-1.1,0.6l-0.6,1.1l-0.6,-1.1l-1.1,-0.6l1.1,-0.6z" fill="#000"/><path d="M176.7,16.3l0.6,1.1l1.1,0.6l-1.1,0.6l-0.6,1.1l-0.6,-1.1l-1.1,-0.6l1.1,-0.6z" fill="#000"/><polyline points="13.8,34.9 17.4,39.5 24.2,38.3 34.5,35.2 46.9,31 61.8,32.3 78.4,35 95.3,30.7 114.1,26.6 130.8,26.6 145.2,19.1 157.5,5.5 166,14.3 173.1,11.6 176.7,19" fill="none" stroke="#1a1a1a" stroke-width="1.0" stroke-dasharray="2.5,1.6" stroke-linejoin="round"/><path d="M13.8,33.1l1.75,3h-3.5z" fill="#000"/><path d="M17.4,37.7l1.75,3h-3.5z" fill="#000"/><path d="M24.2,36.5l1.75,3h-3.5z" fill="#000"/><path d="M34.5,33.4l1.75,3h-3.5z" fill="#000"/><path d="M46.9,29.2l1.75,3h-3.5z" fill="#000"/><path d="M61.8,30.5l1.75,3h-3.5z" fill="#000"/><path d="M78.4,33.2l1.75,3h-3.5z" fill="#000"/><path d="M95.3,28.9l1.75,3h-3.5z" fill="#000"/><path d="M114.1,24.8l1.75,3h-3.5z" fill="#000"/><path d="M130.8,24.8l1.75,3h-3.5z" fill="#000"/><path d="M145.2,17.3l1.75,3h-3.5z" fill="#000"/><path d="M157.5,3.7l1.75,3h-3.5z" fill="#000"/><path d="M166,12.5l1.75,3h-3.5z" fill="#000"/><path d="M173.1,9.8l1.75,3h-3.5z" fill="#000"/><path d="M176.7,17.2l1.75,3h-3.5z" fill="#000"/><polyline points="197,104.9 197.8,51.5 205.2,58.5 215.8,52.5 228.3,43.5 243.6,36.5 259,31.5 276.4,25.8 295.8,22.7 312.2,14.5 326.2,22.7 339,15.5 347.5,24.4 353.8,26.1 358.3,8.2" fill="none" stroke="#999" stroke-width="0.75" stroke-linejoin="round"/><rect x="195.5" y="103.4" width="3" height="3" rx="0.3" fill="#fff" stroke="#888" stroke-width="0.6"/><rect x="196.3" y="50" width="3" height="3" rx="0.3" fill="#fff" stroke="#888" stroke-width="0.6"/><rect x="203.7" y="57" width="3" height="3" rx="0.3" fill="#fff" stroke="#888" stroke-width="0.6"/><rect x="214.3" y="51" width="3" height="3" rx="0.3" fill="#fff" stroke="#888" stroke-width="0.6"/><rect x="226.8" y="42" width="3" height="3" rx="0.3" fill="#fff" stroke="#888" stroke-width="0.6"/><rect x="242.1" y="35" width="3" height="3" rx="0.3" fill="#fff" stroke="#888" stroke-width="0.6"/><rect x="257.5" y="30" width="3" height="3" rx="0.3" fill="#fff" stroke="#888" stroke-width="0.6"/><rect x="274.9" y="24.3" width="3" height="3" rx="0.3" fill="#fff" stroke="#888" stroke-width="0.6"/><rect x="294.3" y="21.2" width="3" height="3" rx="0.3" fill="#fff" stroke="#888" stroke-width="0.6"/><rect x="310.7" y="13" width="3" height="3" rx="0.3" fill="#fff" stroke="#888" stroke-width="0.6"/><rect x="324.7" y="21.2" width="3" height="3" rx="0.3" fill="#fff" stroke="#888" stroke-width="0.6"/><rect x="337.5" y="14" width="3" height="3" rx="0.3" fill="#fff" stroke="#888" stroke-width="0.6"/><rect x="346" y="22.9" width="3" height="3" rx="0.3" fill="#fff" stroke="#888" stroke-width="0.6"/><rect x="352.3" y="24.6" width="3" height="3" rx="0.3" fill="#fff" stroke="#888" stroke-width="0.6"/><rect x="356.8" y="6.7" width="3" height="3" rx="0.3" fill="#fff" stroke="#888" stroke-width="0.6"/><polyline points="194.7,52.4 197.8,36.4 205.5,31.5 215.7,23 229.8,16.6 243.8,11.5 259.2,4.3 275.1,4.3 295.8,13.3 312.2,7.7 326.2,25.3 339,21.8 347.5,30.4 353.8,31.6 358.3,28.2" fill="none" stroke="#444" stroke-width="1.0" stroke-linejoin="round"/><path d="M194.7,50.7l1.7,1.7l-1.7,1.7l-1.7,-1.7z" fill="#fff" stroke="#999" stroke-width="0.55"/><path d="M197.8,34.7l1.7,1.7l-1.7,1.7l-1.7,-1.7z" fill="#fff" stroke="#999" stroke-width="0.55"/><path d="M205.5,29.8l1.7,1.7l-1.7,1.7l-1.7,-1.7z" fill="#fff" stroke="#999" stroke-width="0.55"/><path d="M215.7,21.3l1.7,1.7l-1.7,1.7l-1.7,-1.7z" fill="#fff" stroke="#999" stroke-width="0.55"/><path d="M229.8,14.9l1.7,1.7l-1.7,1.7l-1.7,-1.7z" fill="#fff" stroke="#999" stroke-width="0.55"/><path d="M243.8,9.8l1.7,1.7l-1.7,1.7l-1.7,-1.7z" fill="#fff" stroke="#999" stroke-width="0.55"/><path d="M259.2,2.6l1.7,1.7l-1.7,1.7l-1.7,-1.7z" fill="#fff" stroke="#999" stroke-width="0.55"/><path d="M275.1,2.6l1.7,1.7l-1.7,1.7l-1.7,-1.7z" fill="#fff" stroke="#999" stroke-width="0.55"/><path d="M295.8,11.6l1.7,1.7l-1.7,1.7l-1.7,-1.7z" fill="#fff" stroke="#999" stroke-width="0.55"/><path d="M312.2,6l1.7,1.7l-1.7,1.7l-1.7,-1.7z" fill="#fff" stroke="#999" stroke-width="0.55"/><path d="M326.2,23.6l1.7,1.7l-1.7,1.7l-1.7,-1.7z" fill="#fff" stroke="#999" stroke-width="0.55"/><path d="M339,20.1l1.7,1.7l-1.7,1.7l-1.7,-1.7z" fill="#fff" stroke="#999" stroke-width="0.55"/><path d="M347.5,28.7l1.7,1.7l-1.7,1.7l-1.7,-1.7z" fill="#fff" stroke="#999" stroke-width="0.55"/><path d="M353.8,29.9l1.7,1.7l-1.7,1.7l-1.7,-1.7z" fill="#fff" stroke="#999" stroke-width="0.55"/><path d="M358.3,26.5l1.7,1.7l-1.7,1.7l-1.7,-1.7z" fill="#fff" stroke="#999" stroke-width="0.55"/><polyline points="196.5,69.6 205.2,61.4 216.2,53.9 228.3,45.2 243.6,39.7 259,36.7 276.4,31.2 295.8,22.6 312.2,17.5 326.2,12.6 339,9.6 347.5,13.6 353.8,18.6 358.3,22.6" fill="none" stroke="#555" stroke-width="0.9" stroke-dasharray="2.5,1.6" stroke-linejoin="round"/><path d="M195.2,68.3l2.6,2.6M195.2,70.9l2.6,-2.6" stroke="#000" stroke-width="0.95"/><path d="M203.9,60.1l2.6,2.6M203.9,62.7l2.6,-2.6" stroke="#000" stroke-width="0.95"/><path d="M214.9,52.6l2.6,2.6M214.9,55.2l2.6,-2.6" stroke="#000" stroke-width="0.95"/><path d="M227,43.9l2.6,2.6M227,46.5l2.6,-2.6" stroke="#000" stroke-width="0.95"/><path d="M242.3,38.4l2.6,2.6M242.3,41l2.6,-2.6" stroke="#000" stroke-width="0.95"/><path d="M257.7,35.4l2.6,2.6M257.7,38l2.6,-2.6" stroke="#000" stroke-width="0.95"/><path d="M275.1,29.9l2.6,2.6M275.1,32.5l2.6,-2.6" stroke="#000" stroke-width="0.95"/><path d="M294.5,21.3l2.6,2.6M294.5,23.9l2.6,-2.6" stroke="#000" stroke-width="0.95"/><path d="M310.9,16.2l2.6,2.6M310.9,18.8l2.6,-2.6" stroke="#000" stroke-width="0.95"/><path d="M324.9,11.3l2.6,2.6M324.9,13.9l2.6,-2.6" stroke="#000" stroke-width="0.95"/><path d="M337.7,8.3l2.6,2.6M337.7,10.9l2.6,-2.6" stroke="#000" stroke-width="0.95"/><path d="M346.2,12.3l2.6,2.6M346.2,14.9l2.6,-2.6" stroke="#000" stroke-width="0.95"/><path d="M352.5,17.3l2.6,2.6M352.5,19.9l2.6,-2.6" stroke="#000" stroke-width="0.95"/><path d="M357,21.3l2.6,2.6M357,23.9l2.6,-2.6" stroke="#000" stroke-width="0.95"/><polyline points="197.3,104 197.8,51 205.2,56.7 215.8,50 228.3,41.3 243.6,35.7 259,31.1 276.4,27.6 295.8,22.2 312.2,17 326.2,12.3 339,9.4 347.5,12.8 353.8,17 358.3,21.3" fill="none" stroke="#222" stroke-width="0.95" stroke-dasharray="2.5,1.6" stroke-linejoin="round"/><path d="M197.3,102.3l0.6,1.1l1.1,0.6l-1.1,0.6l-0.6,1.1l-0.6,-1.1l-1.1,-0.6l1.1,-0.6z" fill="#000"/><path d="M197.8,49.3l0.6,1.1l1.1,0.6l-1.1,0.6l-0.6,1.1l-0.6,-1.1l-1.1,-0.6l1.1,-0.6z" fill="#000"/><path d="M205.2,55l0.6,1.1l1.1,0.6l-1.1,0.6l-0.6,1.1l-0.6,-1.1l-1.1,-0.6l1.1,-0.6z" fill="#000"/><path d="M215.8,48.3l0.6,1.1l1.1,0.6l-1.1,0.6l-0.6,1.1l-0.6,-1.1l-1.1,-0.6l1.1,-0.6z" fill="#000"/><path d="M228.3,39.6l0.6,1.1l1.1,0.6l-1.1,0.6l-0.6,1.1l-0.6,-1.1l-1.1,-0.6l1.1,-0.6z" fill="#000"/><path d="M243.6,34l0.6,1.1l1.1,0.6l-1.1,0.6l-0.6,1.1l-0.6,-1.1l-1.1,-0.6l1.1,-0.6z" fill="#000"/><path d="M259,29.4l0.6,1.1l1.1,0.6l-1.1,0.6l-0.6,1.1l-0.6,-1.1l-1.1,-0.6l1.1,-0.6z" fill="#000"/><path d="M276.4,25.9l0.6,1.1l1.1,0.6l-1.1,0.6l-0.6,1.1l-0.6,-1.1l-1.1,-0.6l1.1,-0.6z" fill="#000"/><path d="M295.8,20.5l0.6,1.1l1.1,0.6l-1.1,0.6l-0.6,1.1l-0.6,-1.1l-1.1,-0.6l1.1,-0.6z" fill="#000"/><path d="M312.2,15.3l0.6,1.1l1.1,0.6l-1.1,0.6l-0.6,1.1l-0.6,-1.1l-1.1,-0.6l1.1,-0.6z" fill="#000"/><path d="M326.2,10.6l0.6,1.1l1.1,0.6l-1.1,0.6l-0.6,1.1l-0.6,-1.1l-1.1,-0.6l1.1,-0.6z" fill="#000"/><path d="M339,7.7l0.6,1.1l1.1,0.6l-1.1,0.6l-0.6,1.1l-0.6,-1.1l-1.1,-0.6l1.1,-0.6z" fill="#000"/><path d="M347.5,11.1l0.6,1.1l1.1,0.6l-1.1,0.6l-0.6,1.1l-0.6,-1.1l-1.1,-0.6l1.1,-0.6z" fill="#000"/><path d="M353.8,15.3l0.6,1.1l1.1,0.6l-1.1,0.6l-0.6,1.1l-0.6,-1.1l-1.1,-0.6l1.1,-0.6z" fill="#000"/><path d="M358.3,19.6l0.6,1.1l1.1,0.6l-1.1,0.6l-0.6,1.1l-0.6,-1.1l-1.1,-0.6l1.1,-0.6z" fill="#000"/><polyline points="195.5,65 198.4,37.9 205.6,45.6 215.8,46.6 228.3,46 243.6,40.6 259,37.1 276.4,44 295.8,35.5 312.2,35 326.2,27.6 339,10.6 347.5,21.8 353.8,22.2 358.3,22.2" fill="none" stroke="#1a1a1a" stroke-width="1.0" stroke-dasharray="2.5,1.6" stroke-linejoin="round"/><path d="M195.5,63.2l1.75,3h-3.5z" fill="#000"/><path d="M198.4,36.1l1.75,3h-3.5z" fill="#000"/><path d="M205.6,43.8l1.75,3h-3.5z" fill="#000"/><path d="M215.8,44.8l1.75,3h-3.5z" fill="#000"/><path d="M228.3,44.2l1.75,3h-3.5z" fill="#000"/><path d="M243.6,38.8l1.75,3h-3.5z" fill="#000"/><path d="M259,35.3l1.75,3h-3.5z" fill="#000"/><path d="M276.4,42.2l1.75,3h-3.5z" fill="#000"/><path d="M295.8,33.7l1.75,3h-3.5z" fill="#000"/><path d="M312.2,33.2l1.75,3h-3.5z" fill="#000"/><path d="M326.2,25.8l1.75,3h-3.5z" fill="#000"/><path d="M339,8.8l1.75,3h-3.5z" fill="#000"/><path d="M347.5,20l1.75,3h-3.5z" fill="#000"/><path d="M353.8,20.4l1.75,3h-3.5z" fill="#000"/><path d="M358.3,20.4l1.75,3h-3.5z" fill="#000"/><polyline points="376.5,108.2 376.7,61.9 380.2,60.9 387,71.1 396.7,72.2 410.4,67.1 424.7,63.5 440.4,54.5 457.5,42.1 477.2,21 492.5,34.6 507.9,23.7 521.6,37.4 530,41.5 536.9,40.8 539.6,19.3" fill="none" stroke="#999" stroke-width="0.75" stroke-linejoin="round"/><rect x="375" y="106.7" width="3" height="3" rx="0.3" fill="#fff" stroke="#888" stroke-width="0.6"/><rect x="375.2" y="60.4" width="3" height="3" rx="0.3" fill="#fff" stroke="#888" stroke-width="0.6"/><rect x="378.7" y="59.4" width="3" height="3" rx="0.3" fill="#fff" stroke="#888" stroke-width="0.6"/><rect x="385.5" y="69.6" width="3" height="3" rx="0.3" fill="#fff" stroke="#888" stroke-width="0.6"/><rect x="395.2" y="70.7" width="3" height="3" rx="0.3" fill="#fff" stroke="#888" stroke-width="0.6"/><rect x="408.9" y="65.6" width="3" height="3" rx="0.3" fill="#fff" stroke="#888" stroke-width="0.6"/><rect x="423.2" y="62" width="3" height="3" rx="0.3" fill="#fff" stroke="#888" stroke-width="0.6"/><rect x="438.9" y="53" width="3" height="3" rx="0.3" fill="#fff" stroke="#888" stroke-width="0.6"/><rect x="456" y="40.6" width="3" height="3" rx="0.3" fill="#fff" stroke="#888" stroke-width="0.6"/><rect x="475.7" y="19.5" width="3" height="3" rx="0.3" fill="#fff" stroke="#888" stroke-width="0.6"/><rect x="491" y="33.1" width="3" height="3" rx="0.3" fill="#fff" stroke="#888" stroke-width="0.6"/><rect x="506.4" y="22.2" width="3" height="3" rx="0.3" fill="#fff" stroke="#888" stroke-width="0.6"/><rect x="520.1" y="35.9" width="3" height="3" rx="0.3" fill="#fff" stroke="#888" stroke-width="0.6"/><rect x="528.5" y="40" width="3" height="3" rx="0.3" fill="#fff" stroke="#888" stroke-width="0.6"/><rect x="535.4" y="39.3" width="3" height="3" rx="0.3" fill="#fff" stroke="#888" stroke-width="0.6"/><rect x="538.1" y="17.8" width="3" height="3" rx="0.3" fill="#fff" stroke="#888" stroke-width="0.6"/><polyline points="376.7,51.2 381.4,50.5 387.2,50.5 396.7,43.7 410.4,34.1 424.7,26.6 440.4,14.3 457.5,13 477.2,6.1 492.5,38.2 507.9,38.2 521.6,44.4 530,47.1 536.9,48.5 539.6,47.8" fill="none" stroke="#444" stroke-width="1.0" stroke-linejoin="round"/><path d="M376.7,49.5l1.7,1.7l-1.7,1.7l-1.7,-1.7z" fill="#fff" stroke="#999" stroke-width="0.55"/><path d="M381.4,48.8l1.7,1.7l-1.7,1.7l-1.7,-1.7z" fill="#fff" stroke="#999" stroke-width="0.55"/><path d="M387.2,48.8l1.7,1.7l-1.7,1.7l-1.7,-1.7z" fill="#fff" stroke="#999" stroke-width="0.55"/><path d="M396.7,42l1.7,1.7l-1.7,1.7l-1.7,-1.7z" fill="#fff" stroke="#999" stroke-width="0.55"/><path d="M410.4,32.4l1.7,1.7l-1.7,1.7l-1.7,-1.7z" fill="#fff" stroke="#999" stroke-width="0.55"/><path d="M424.7,24.9l1.7,1.7l-1.7,1.7l-1.7,-1.7z" fill="#fff" stroke="#999" stroke-width="0.55"/><path d="M440.4,12.6l1.7,1.7l-1.7,1.7l-1.7,-1.7z" fill="#fff" stroke="#999" stroke-width="0.55"/><path d="M457.5,11.3l1.7,1.7l-1.7,1.7l-1.7,-1.7z" fill="#fff" stroke="#999" stroke-width="0.55"/><path d="M477.2,4.4l1.7,1.7l-1.7,1.7l-1.7,-1.7z" fill="#fff" stroke="#999" stroke-width="0.55"/><path d="M492.5,36.5l1.7,1.7l-1.7,1.7l-1.7,-1.7z" fill="#fff" stroke="#999" stroke-width="0.55"/><path d="M507.9,36.5l1.7,1.7l-1.7,1.7l-1.7,-1.7z" fill="#fff" stroke="#999" stroke-width="0.55"/><path d="M521.6,42.7l1.7,1.7l-1.7,1.7l-1.7,-1.7z" fill="#fff" stroke="#999" stroke-width="0.55"/><path d="M530,45.4l1.7,1.7l-1.7,1.7l-1.7,-1.7z" fill="#fff" stroke="#999" stroke-width="0.55"/><path d="M536.9,46.8l1.7,1.7l-1.7,1.7l-1.7,-1.7z" fill="#fff" stroke="#999" stroke-width="0.55"/><path d="M539.6,46.1l1.7,1.7l-1.7,1.7l-1.7,-1.7z" fill="#fff" stroke="#999" stroke-width="0.55"/><polyline points="377.6,136.4 379.9,87.3 387,73.6 396.7,74 410.4,74 424.7,67.9 440.4,59.3 457.5,50.1 475.5,39.9 491.9,9.2 507.9,13.3 521.6,4.7 530,16.6 536.9,25.2 539.6,32" fill="none" stroke="#555" stroke-width="0.9" stroke-dasharray="2.5,1.6" stroke-linejoin="round"/><path d="M376.3,135.1l2.6,2.6M376.3,137.7l2.6,-2.6" stroke="#000" stroke-width="0.95"/><path d="M378.6,86l2.6,2.6M378.6,88.6l2.6,-2.6" stroke="#000" stroke-width="0.95"/><path d="M385.7,72.3l2.6,2.6M385.7,74.9l2.6,-2.6" stroke="#000" stroke-width="0.95"/><path d="M395.4,72.7l2.6,2.6M395.4,75.3l2.6,-2.6" stroke="#000" stroke-width="0.95"/><path d="M409.1,72.7l2.6,2.6M409.1,75.3l2.6,-2.6" stroke="#000" stroke-width="0.95"/><path d="M423.4,66.6l2.6,2.6M423.4,69.2l2.6,-2.6" stroke="#000" stroke-width="0.95"/><path d="M439.1,58l2.6,2.6M439.1,60.6l2.6,-2.6" stroke="#000" stroke-width="0.95"/><path d="M456.2,48.8l2.6,2.6M456.2,51.4l2.6,-2.6" stroke="#000" stroke-width="0.95"/><path d="M474.2,38.6l2.6,2.6M474.2,41.2l2.6,-2.6" stroke="#000" stroke-width="0.95"/><path d="M490.6,7.9l2.6,2.6M490.6,10.5l2.6,-2.6" stroke="#000" stroke-width="0.95"/><path d="M506.6,12l2.6,2.6M506.6,14.6l2.6,-2.6" stroke="#000" stroke-width="0.95"/><path d="M520.3,3.4l2.6,2.6M520.3,6l2.6,-2.6" stroke="#000" stroke-width="0.95"/><path d="M528.7,15.3l2.6,2.6M528.7,17.9l2.6,-2.6" stroke="#000" stroke-width="0.95"/><path d="M535.6,23.9l2.6,2.6M535.6,26.5l2.6,-2.6" stroke="#000" stroke-width="0.95"/><path d="M538.3,30.7l2.6,2.6M538.3,33.3l2.6,-2.6" stroke="#000" stroke-width="0.95"/><polyline points="376.7,60 379.9,12.3 387,65.5 396.7,67.6 410.4,64.8 424.7,61.4 440.4,52.9 457.5,41.6 477.2,30.7 491.9,15.4 507.9,14.3 521.6,10.2 530,20.5 536.9,27.3 539.6,30" fill="none" stroke="#222" stroke-width="0.95" stroke-dasharray="2.5,1.6" stroke-linejoin="round"/><path d="M376.7,58.3l0.6,1.1l1.1,0.6l-1.1,0.6l-0.6,1.1l-0.6,-1.1l-1.1,-0.6l1.1,-0.6z" fill="#000"/><path d="M379.9,10.6l0.6,1.1l1.1,0.6l-1.1,0.6l-0.6,1.1l-0.6,-1.1l-1.1,-0.6l1.1,-0.6z" fill="#000"/><path d="M387,63.8l0.6,1.1l1.1,0.6l-1.1,0.6l-0.6,1.1l-0.6,-1.1l-1.1,-0.6l1.1,-0.6z" fill="#000"/><path d="M396.7,65.9l0.6,1.1l1.1,0.6l-1.1,0.6l-0.6,1.1l-0.6,-1.1l-1.1,-0.6l1.1,-0.6z" fill="#000"/><path d="M410.4,63.1l0.6,1.1l1.1,0.6l-1.1,0.6l-0.6,1.1l-0.6,-1.1l-1.1,-0.6l1.1,-0.6z" fill="#000"/><path d="M424.7,59.7l0.6,1.1l1.1,0.6l-1.1,0.6l-0.6,1.1l-0.6,-1.1l-1.1,-0.6l1.1,-0.6z" fill="#000"/><path d="M440.4,51.2l0.6,1.1l1.1,0.6l-1.1,0.6l-0.6,1.1l-0.6,-1.1l-1.1,-0.6l1.1,-0.6z" fill="#000"/><path d="M457.5,39.9l0.6,1.1l1.1,0.6l-1.1,0.6l-0.6,1.1l-0.6,-1.1l-1.1,-0.6l1.1,-0.6z" fill="#000"/><path d="M477.2,29l0.6,1.1l1.1,0.6l-1.1,0.6l-0.6,1.1l-0.6,-1.1l-1.1,-0.6l1.1,-0.6z" fill="#000"/><path d="M491.9,13.7l0.6,1.1l1.1,0.6l-1.1,0.6l-0.6,1.1l-0.6,-1.1l-1.1,-0.6l1.1,-0.6z" fill="#000"/><path d="M507.9,12.6l0.6,1.1l1.1,0.6l-1.1,0.6l-0.6,1.1l-0.6,-1.1l-1.1,-0.6l1.1,-0.6z" fill="#000"/><path d="M521.6,8.5l0.6,1.1l1.1,0.6l-1.1,0.6l-0.6,1.1l-0.6,-1.1l-1.1,-0.6l1.1,-0.6z" fill="#000"/><path d="M530,18.8l0.6,1.1l1.1,0.6l-1.1,0.6l-0.6,1.1l-0.6,-1.1l-1.1,-0.6l1.1,-0.6z" fill="#000"/><path d="M536.9,25.6l0.6,1.1l1.1,0.6l-1.1,0.6l-0.6,1.1l-0.6,-1.1l-1.1,-0.6l1.1,-0.6z" fill="#000"/><path d="M539.6,28.3l0.6,1.1l1.1,0.6l-1.1,0.6l-0.6,1.1l-0.6,-1.1l-1.1,-0.6l1.1,-0.6z" fill="#000"/><polyline points="376.7,68 379.9,12.3 380.6,43.5 387,42.7 397,36.2 408.9,30.4 424.7,34.1 456.7,87 477.2,10.2 492.5,49.5 507.9,36.9 521.6,35.8 530,40.3 536.9,41.6 539.6,14.3" fill="none" stroke="#1a1a1a" stroke-width="1.0" stroke-dasharray="2.5,1.6" stroke-linejoin="round"/><path d="M376.7,66.2l1.75,3h-3.5z" fill="#000"/><path d="M379.9,10.5l1.75,3h-3.5z" fill="#000"/><path d="M380.6,41.7l1.75,3h-3.5z" fill="#000"/><path d="M387,40.9l1.75,3h-3.5z" fill="#000"/><path d="M397,34.4l1.75,3h-3.5z" fill="#000"/><path d="M408.9,28.6l1.75,3h-3.5z" fill="#000"/><path d="M424.7,32.3l1.75,3h-3.5z" fill="#000"/><path d="M456.7,85.2l1.75,3h-3.5z" fill="#000"/><path d="M477.2,8.4l1.75,3h-3.5z" fill="#000"/><path d="M492.5,47.7l1.75,3h-3.5z" fill="#000"/><path d="M507.9,35.1l1.75,3h-3.5z" fill="#000"/><path d="M521.6,34l1.75,3h-3.5z" fill="#000"/><path d="M530,38.5l1.75,3h-3.5z" fill="#000"/><path d="M536.9,39.8l1.75,3h-3.5z" fill="#000"/><path d="M539.6,12.5l1.75,3h-3.5z" fill="#000"/><polyline points="14,230.5 23.5,221.9 34.2,218.5 46.5,213.5 60.4,207.5 76.4,198.2 92.7,194.7 111.9,185.1 129.6,211 147.4,206.9 161.6,216.5 169.8,219.2 176,224" fill="none" stroke="#999" stroke-width="0.75" stroke-linejoin="round"/><rect x="12.5" y="229" width="3" height="3" rx="0.3" fill="#fff" stroke="#888" stroke-width="0.6"/><rect x="22" y="220.4" width="3" height="3" rx="0.3" fill="#fff" stroke="#888" stroke-width="0.6"/><rect x="32.7" y="217" width="3" height="3" rx="0.3" fill="#fff" stroke="#888" stroke-width="0.6"/><rect x="45" y="212" width="3" height="3" rx="0.3" fill="#fff" stroke="#888" stroke-width="0.6"/><rect x="58.9" y="206" width="3" height="3" rx="0.3" fill="#fff" stroke="#888" stroke-width="0.6"/><rect x="74.9" y="196.7" width="3" height="3" rx="0.3" fill="#fff" stroke="#888" stroke-width="0.6"/><rect x="91.2" y="193.2" width="3" height="3" rx="0.3" fill="#fff" stroke="#888" stroke-width="0.6"/><rect x="110.4" y="183.6" width="3" height="3" rx="0.3" fill="#fff" stroke="#888" stroke-width="0.6"/><rect x="128.1" y="209.5" width="3" height="3" rx="0.3" fill="#fff" stroke="#888" stroke-width="0.6"/><rect x="145.9" y="205.4" width="3" height="3" rx="0.3" fill="#fff" stroke="#888" stroke-width="0.6"/><rect x="160.1" y="215" width="3" height="3" rx="0.3" fill="#fff" stroke="#888" stroke-width="0.6"/><rect x="168.3" y="217.7" width="3" height="3" rx="0.3" fill="#fff" stroke="#888" stroke-width="0.6"/><rect x="174.5" y="222.5" width="3" height="3" rx="0.3" fill="#fff" stroke="#888" stroke-width="0.6"/><polyline points="14,148.6 17.3,220.8 23.5,206.9 34.2,203.8 46.5,203.8 60.4,203.8 75.8,203.8 85.6,206 97.3,210 111.9,213.3 129.6,220.1 147.4,222.3 161.6,222.3 169.8,220.7 176,224.2" fill="none" stroke="#444" stroke-width="1.0" stroke-linejoin="round"/><path d="M14,146.9l1.7,1.7l-1.7,1.7l-1.7,-1.7z" fill="#fff" stroke="#999" stroke-width="0.55"/><path d="M17.3,219.1l1.7,1.7l-1.7,1.7l-1.7,-1.7z" fill="#fff" stroke="#999" stroke-width="0.55"/><path d="M23.5,205.2l1.7,1.7l-1.7,1.7l-1.7,-1.7z" fill="#fff" stroke="#999" stroke-width="0.55"/><path d="M34.2,202.1l1.7,1.7l-1.7,1.7l-1.7,-1.7z" fill="#fff" stroke="#999" stroke-width="0.55"/><path d="M46.5,202.1l1.7,1.7l-1.7,1.7l-1.7,-1.7z" fill="#fff" stroke="#999" stroke-width="0.55"/><path d="M60.4,202.1l1.7,1.7l-1.7,1.7l-1.7,-1.7z" fill="#fff" stroke="#999" stroke-width="0.55"/><path d="M75.8,202.1l1.7,1.7l-1.7,1.7l-1.7,-1.7z" fill="#fff" stroke="#999" stroke-width="0.55"/><path d="M85.6,204.3l1.7,1.7l-1.7,1.7l-1.7,-1.7z" fill="#fff" stroke="#999" stroke-width="0.55"/><path d="M97.3,208.3l1.7,1.7l-1.7,1.7l-1.7,-1.7z" fill="#fff" stroke="#999" stroke-width="0.55"/><path d="M111.9,211.6l1.7,1.7l-1.7,1.7l-1.7,-1.7z" fill="#fff" stroke="#999" stroke-width="0.55"/><path d="M129.6,218.4l1.7,1.7l-1.7,1.7l-1.7,-1.7z" fill="#fff" stroke="#999" stroke-width="0.55"/><path d="M147.4,220.6l1.7,1.7l-1.7,1.7l-1.7,-1.7z" fill="#fff" stroke="#999" stroke-width="0.55"/><path d="M161.6,220.6l1.7,1.7l-1.7,1.7l-1.7,-1.7z" fill="#fff" stroke="#999" stroke-width="0.55"/><path d="M169.8,219l1.7,1.7l-1.7,1.7l-1.7,-1.7z" fill="#fff" stroke="#999" stroke-width="0.55"/><path d="M176,222.5l1.7,1.7l-1.7,1.7l-1.7,-1.7z" fill="#fff" stroke="#999" stroke-width="0.55"/><polyline points="14.8,281.1 14.4,228.6 17.3,163.4 23.5,217.3 34.2,231.1 46.5,226.6 60.4,221.9 76.4,217.3 93.6,208.1 111.9,206 129.6,192.9 147.4,196.5 161.6,195.1 169.8,212.6 173.5,216.6 176.5,209.1" fill="none" stroke="#555" stroke-width="0.9" stroke-dasharray="2.5,1.6" stroke-linejoin="round"/><path d="M13.5,279.8l2.6,2.6M13.5,282.4l2.6,-2.6" stroke="#000" stroke-width="0.95"/><path d="M13.1,227.3l2.6,2.6M13.1,229.9l2.6,-2.6" stroke="#000" stroke-width="0.95"/><path d="M16,162.1l2.6,2.6M16,164.7l2.6,-2.6" stroke="#000" stroke-width="0.95"/><path d="M22.2,216l2.6,2.6M22.2,218.6l2.6,-2.6" stroke="#000" stroke-width="0.95"/><path d="M32.9,229.8l2.6,2.6M32.9,232.4l2.6,-2.6" stroke="#000" stroke-width="0.95"/><path d="M45.2,225.3l2.6,2.6M45.2,227.9l2.6,-2.6" stroke="#000" stroke-width="0.95"/><path d="M59.1,220.6l2.6,2.6M59.1,223.2l2.6,-2.6" stroke="#000" stroke-width="0.95"/><path d="M75.1,216l2.6,2.6M75.1,218.6l2.6,-2.6" stroke="#000" stroke-width="0.95"/><path d="M92.3,206.8l2.6,2.6M92.3,209.4l2.6,-2.6" stroke="#000" stroke-width="0.95"/><path d="M110.6,204.7l2.6,2.6M110.6,207.3l2.6,-2.6" stroke="#000" stroke-width="0.95"/><path d="M128.3,191.6l2.6,2.6M128.3,194.2l2.6,-2.6" stroke="#000" stroke-width="0.95"/><path d="M146.1,195.2l2.6,2.6M146.1,197.8l2.6,-2.6" stroke="#000" stroke-width="0.95"/><path d="M160.3,193.8l2.6,2.6M160.3,196.4l2.6,-2.6" stroke="#000" stroke-width="0.95"/><path d="M168.5,211.3l2.6,2.6M168.5,213.9l2.6,-2.6" stroke="#000" stroke-width="0.95"/><path d="M172.2,215.3l2.6,2.6M172.2,217.9l2.6,-2.6" stroke="#000" stroke-width="0.95"/><path d="M175.2,207.8l2.6,2.6M175.2,210.4l2.6,-2.6" stroke="#000" stroke-width="0.95"/><polyline points="14,221.4 23.5,220.8 34.2,220 46.5,217 60.4,213 76.4,211.5 93.6,207 111.9,200.4 129.6,195 147.4,197.7 161.6,198.3 169.8,211.5 173.5,218 176.5,211.5" fill="none" stroke="#222" stroke-width="0.95" stroke-dasharray="2.5,1.6" stroke-linejoin="round"/><path d="M14,219.7l0.6,1.1l1.1,0.6l-1.1,0.6l-0.6,1.1l-0.6,-1.1l-1.1,-0.6l1.1,-0.6z" fill="#000"/><path d="M23.5,219.1l0.6,1.1l1.1,0.6l-1.1,0.6l-0.6,1.1l-0.6,-1.1l-1.1,-0.6l1.1,-0.6z" fill="#000"/><path d="M34.2,218.3l0.6,1.1l1.1,0.6l-1.1,0.6l-0.6,1.1l-0.6,-1.1l-1.1,-0.6l1.1,-0.6z" fill="#000"/><path d="M46.5,215.3l0.6,1.1l1.1,0.6l-1.1,0.6l-0.6,1.1l-0.6,-1.1l-1.1,-0.6l1.1,-0.6z" fill="#000"/><path d="M60.4,211.3l0.6,1.1l1.1,0.6l-1.1,0.6l-0.6,1.1l-0.6,-1.1l-1.1,-0.6l1.1,-0.6z" fill="#000"/><path d="M76.4,209.8l0.6,1.1l1.1,0.6l-1.1,0.6l-0.6,1.1l-0.6,-1.1l-1.1,-0.6l1.1,-0.6z" fill="#000"/><path d="M93.6,205.3l0.6,1.1l1.1,0.6l-1.1,0.6l-0.6,1.1l-0.6,-1.1l-1.1,-0.6l1.1,-0.6z" fill="#000"/><path d="M111.9,198.7l0.6,1.1l1.1,0.6l-1.1,0.6l-0.6,1.1l-0.6,-1.1l-1.1,-0.6l1.1,-0.6z" fill="#000"/><path d="M129.6,193.3l0.6,1.1l1.1,0.6l-1.1,0.6l-0.6,1.1l-0.6,-1.1l-1.1,-0.6l1.1,-0.6z" fill="#000"/><path d="M147.4,196l0.6,1.1l1.1,0.6l-1.1,0.6l-0.6,1.1l-0.6,-1.1l-1.1,-0.6l1.1,-0.6z" fill="#000"/><path d="M161.6,196.6l0.6,1.1l1.1,0.6l-1.1,0.6l-0.6,1.1l-0.6,-1.1l-1.1,-0.6l1.1,-0.6z" fill="#000"/><path d="M169.8,209.8l0.6,1.1l1.1,0.6l-1.1,0.6l-0.6,1.1l-0.6,-1.1l-1.1,-0.6l1.1,-0.6z" fill="#000"/><path d="M173.5,216.3l0.6,1.1l1.1,0.6l-1.1,0.6l-0.6,1.1l-0.6,-1.1l-1.1,-0.6l1.1,-0.6z" fill="#000"/><path d="M176.5,209.8l0.6,1.1l1.1,0.6l-1.1,0.6l-0.6,1.1l-0.6,-1.1l-1.1,-0.6l1.1,-0.6z" fill="#000"/><polyline points="14,225 14.5,197.7 23.5,216.2 34.2,216.2 46.5,219.2 60.4,223.8 76.4,223.8 92.7,222.3 111.9,177 129.6,200.4 147.4,196.9 161.6,211.9 169.8,217.9 176,210.5" fill="none" stroke="#1a1a1a" stroke-width="1.0" stroke-dasharray="2.5,1.6" stroke-linejoin="round"/><path d="M14,223.2l1.75,3h-3.5z" fill="#000"/><path d="M14.5,195.9l1.75,3h-3.5z" fill="#000"/><path d="M23.5,214.4l1.75,3h-3.5z" fill="#000"/><path d="M34.2,214.4l1.75,3h-3.5z" fill="#000"/><path d="M46.5,217.4l1.75,3h-3.5z" fill="#000"/><path d="M60.4,222l1.75,3h-3.5z" fill="#000"/><path d="M76.4,222l1.75,3h-3.5z" fill="#000"/><path d="M92.7,220.5l1.75,3h-3.5z" fill="#000"/><path d="M111.9,175.2l1.75,3h-3.5z" fill="#000"/><path d="M129.6,198.6l1.75,3h-3.5z" fill="#000"/><path d="M147.4,195.1l1.75,3h-3.5z" fill="#000"/><path d="M161.6,210.1l1.75,3h-3.5z" fill="#000"/><path d="M169.8,216.1l1.75,3h-3.5z" fill="#000"/><path d="M176,208.7l1.75,3h-3.5z" fill="#000"/><polyline points="195,233.3 204.9,233.3 214.4,234.2 225.6,230.7 238.5,228.1 254.1,225.5 269.6,223.3 286.4,226.1 305.4,224.7 321.8,234.2 333.9,234.7 345.1,235.9 354.6,236.8 358.1,233" fill="none" stroke="#999" stroke-width="0.75" stroke-linejoin="round"/><rect x="193.5" y="231.8" width="3" height="3" rx="0.3" fill="#fff" stroke="#888" stroke-width="0.6"/><rect x="203.4" y="231.8" width="3" height="3" rx="0.3" fill="#fff" stroke="#888" stroke-width="0.6"/><rect x="212.9" y="232.7" width="3" height="3" rx="0.3" fill="#fff" stroke="#888" stroke-width="0.6"/><rect x="224.1" y="229.2" width="3" height="3" rx="0.3" fill="#fff" stroke="#888" stroke-width="0.6"/><rect x="237" y="226.6" width="3" height="3" rx="0.3" fill="#fff" stroke="#888" stroke-width="0.6"/><rect x="252.6" y="224" width="3" height="3" rx="0.3" fill="#fff" stroke="#888" stroke-width="0.6"/><rect x="268.1" y="221.8" width="3" height="3" rx="0.3" fill="#fff" stroke="#888" stroke-width="0.6"/><rect x="284.9" y="224.6" width="3" height="3" rx="0.3" fill="#fff" stroke="#888" stroke-width="0.6"/><rect x="303.9" y="223.2" width="3" height="3" rx="0.3" fill="#fff" stroke="#888" stroke-width="0.6"/><rect x="320.3" y="232.7" width="3" height="3" rx="0.3" fill="#fff" stroke="#888" stroke-width="0.6"/><rect x="332.4" y="233.2" width="3" height="3" rx="0.3" fill="#fff" stroke="#888" stroke-width="0.6"/><rect x="343.6" y="234.4" width="3" height="3" rx="0.3" fill="#fff" stroke="#888" stroke-width="0.6"/><rect x="353.1" y="235.3" width="3" height="3" rx="0.3" fill="#fff" stroke="#888" stroke-width="0.6"/><rect x="356.6" y="231.5" width="3" height="3" rx="0.3" fill="#fff" stroke="#888" stroke-width="0.6"/><polyline points="195.7,150 197.5,236 201.4,227.6 205.7,225 214.4,226.3 225.6,227.6 238.5,229 254.1,230.7 269.6,232.8 286.4,237.1 305.4,239.7 321.8,240.1 333.9,240.1 345.1,240.1 354.6,238.9 358.1,241.1" fill="none" stroke="#444" stroke-width="1.0" stroke-linejoin="round"/><path d="M195.7,148.3l1.7,1.7l-1.7,1.7l-1.7,-1.7z" fill="#fff" stroke="#999" stroke-width="0.55"/><path d="M197.5,234.3l1.7,1.7l-1.7,1.7l-1.7,-1.7z" fill="#fff" stroke="#999" stroke-width="0.55"/><path d="M201.4,225.9l1.7,1.7l-1.7,1.7l-1.7,-1.7z" fill="#fff" stroke="#999" stroke-width="0.55"/><path d="M205.7,223.3l1.7,1.7l-1.7,1.7l-1.7,-1.7z" fill="#fff" stroke="#999" stroke-width="0.55"/><path d="M214.4,224.6l1.7,1.7l-1.7,1.7l-1.7,-1.7z" fill="#fff" stroke="#999" stroke-width="0.55"/><path d="M225.6,225.9l1.7,1.7l-1.7,1.7l-1.7,-1.7z" fill="#fff" stroke="#999" stroke-width="0.55"/><path d="M238.5,227.3l1.7,1.7l-1.7,1.7l-1.7,-1.7z" fill="#fff" stroke="#999" stroke-width="0.55"/><path d="M254.1,229l1.7,1.7l-1.7,1.7l-1.7,-1.7z" fill="#fff" stroke="#999" stroke-width="0.55"/><path d="M269.6,231.1l1.7,1.7l-1.7,1.7l-1.7,-1.7z" fill="#fff" stroke="#999" stroke-width="0.55"/><path d="M286.4,235.4l1.7,1.7l-1.7,1.7l-1.7,-1.7z" fill="#fff" stroke="#999" stroke-width="0.55"/><path d="M305.4,238l1.7,1.7l-1.7,1.7l-1.7,-1.7z" fill="#fff" stroke="#999" stroke-width="0.55"/><path d="M321.8,238.4l1.7,1.7l-1.7,1.7l-1.7,-1.7z" fill="#fff" stroke="#999" stroke-width="0.55"/><path d="M333.9,238.4l1.7,1.7l-1.7,1.7l-1.7,-1.7z" fill="#fff" stroke="#999" stroke-width="0.55"/><path d="M345.1,238.4l1.7,1.7l-1.7,1.7l-1.7,-1.7z" fill="#fff" stroke="#999" stroke-width="0.55"/><path d="M354.6,237.2l1.7,1.7l-1.7,1.7l-1.7,-1.7z" fill="#fff" stroke="#999" stroke-width="0.55"/><path d="M358.1,239.4l1.7,1.7l-1.7,1.7l-1.7,-1.7z" fill="#fff" stroke="#999" stroke-width="0.55"/><polyline points="195.9,150.6 198.5,216.9 204.9,237.3 214.4,237.3 225.6,236.7 238.5,236.2 254.1,234.1 269.6,231.6 286.4,230.6 305.4,230.6 321.8,229.6 333.9,234.6 345.1,235.6 354.6,236.6 358.1,237.1" fill="none" stroke="#555" stroke-width="0.9" stroke-dasharray="2.5,1.6" stroke-linejoin="round"/><path d="M194.6,149.3l2.6,2.6M194.6,151.9l2.6,-2.6" stroke="#000" stroke-width="0.95"/><path d="M197.2,215.6l2.6,2.6M197.2,218.2l2.6,-2.6" stroke="#000" stroke-width="0.95"/><path d="M203.6,236l2.6,2.6M203.6,238.6l2.6,-2.6" stroke="#000" stroke-width="0.95"/><path d="M213.1,236l2.6,2.6M213.1,238.6l2.6,-2.6" stroke="#000" stroke-width="0.95"/><path d="M224.3,235.4l2.6,2.6M224.3,238l2.6,-2.6" stroke="#000" stroke-width="0.95"/><path d="M237.2,234.9l2.6,2.6M237.2,237.5l2.6,-2.6" stroke="#000" stroke-width="0.95"/><path d="M252.8,232.8l2.6,2.6M252.8,235.4l2.6,-2.6" stroke="#000" stroke-width="0.95"/><path d="M268.3,230.3l2.6,2.6M268.3,232.9l2.6,-2.6" stroke="#000" stroke-width="0.95"/><path d="M285.1,229.3l2.6,2.6M285.1,231.9l2.6,-2.6" stroke="#000" stroke-width="0.95"/><path d="M304.1,229.3l2.6,2.6M304.1,231.9l2.6,-2.6" stroke="#000" stroke-width="0.95"/><path d="M320.5,228.3l2.6,2.6M320.5,230.9l2.6,-2.6" stroke="#000" stroke-width="0.95"/><path d="M332.6,233.3l2.6,2.6M332.6,235.9l2.6,-2.6" stroke="#000" stroke-width="0.95"/><path d="M343.8,234.3l2.6,2.6M343.8,236.9l2.6,-2.6" stroke="#000" stroke-width="0.95"/><path d="M353.3,235.3l2.6,2.6M353.3,237.9l2.6,-2.6" stroke="#000" stroke-width="0.95"/><path d="M356.8,235.8l2.6,2.6M356.8,238.4l2.6,-2.6" stroke="#000" stroke-width="0.95"/><polyline points="195.7,236 204.9,236.3 214.4,235.4 225.6,234.5 238.5,232.8 254.1,231.4 269.6,229.9 286.4,230.2 305.4,230.2 321.8,229.4 333.9,234.5 345.1,235.4 354.6,236.3 358.1,236.6" fill="none" stroke="#222" stroke-width="0.95" stroke-dasharray="2.5,1.6" stroke-linejoin="round"/><path d="M195.7,234.3l0.6,1.1l1.1,0.6l-1.1,0.6l-0.6,1.1l-0.6,-1.1l-1.1,-0.6l1.1,-0.6z" fill="#000"/><path d="M204.9,234.6l0.6,1.1l1.1,0.6l-1.1,0.6l-0.6,1.1l-0.6,-1.1l-1.1,-0.6l1.1,-0.6z" fill="#000"/><path d="M214.4,233.7l0.6,1.1l1.1,0.6l-1.1,0.6l-0.6,1.1l-0.6,-1.1l-1.1,-0.6l1.1,-0.6z" fill="#000"/><path d="M225.6,232.8l0.6,1.1l1.1,0.6l-1.1,0.6l-0.6,1.1l-0.6,-1.1l-1.1,-0.6l1.1,-0.6z" fill="#000"/><path d="M238.5,231.1l0.6,1.1l1.1,0.6l-1.1,0.6l-0.6,1.1l-0.6,-1.1l-1.1,-0.6l1.1,-0.6z" fill="#000"/><path d="M254.1,229.7l0.6,1.1l1.1,0.6l-1.1,0.6l-0.6,1.1l-0.6,-1.1l-1.1,-0.6l1.1,-0.6z" fill="#000"/><path d="M269.6,228.2l0.6,1.1l1.1,0.6l-1.1,0.6l-0.6,1.1l-0.6,-1.1l-1.1,-0.6l1.1,-0.6z" fill="#000"/><path d="M286.4,228.5l0.6,1.1l1.1,0.6l-1.1,0.6l-0.6,1.1l-0.6,-1.1l-1.1,-0.6l1.1,-0.6z" fill="#000"/><path d="M305.4,228.5l0.6,1.1l1.1,0.6l-1.1,0.6l-0.6,1.1l-0.6,-1.1l-1.1,-0.6l1.1,-0.6z" fill="#000"/><path d="M321.8,227.7l0.6,1.1l1.1,0.6l-1.1,0.6l-0.6,1.1l-0.6,-1.1l-1.1,-0.6l1.1,-0.6z" fill="#000"/><path d="M333.9,232.8l0.6,1.1l1.1,0.6l-1.1,0.6l-0.6,1.1l-0.6,-1.1l-1.1,-0.6l1.1,-0.6z" fill="#000"/><path d="M345.1,233.7l0.6,1.1l1.1,0.6l-1.1,0.6l-0.6,1.1l-0.6,-1.1l-1.1,-0.6l1.1,-0.6z" fill="#000"/><path d="M354.6,234.6l0.6,1.1l1.1,0.6l-1.1,0.6l-0.6,1.1l-0.6,-1.1l-1.1,-0.6l1.1,-0.6z" fill="#000"/><path d="M358.1,234.9l0.6,1.1l1.1,0.6l-1.1,0.6l-0.6,1.1l-0.6,-1.1l-1.1,-0.6l1.1,-0.6z" fill="#000"/><polyline points="195.7,245.8 204.9,238.9 214.4,239.7 225.6,240.6 238.5,241.1 254.1,240.6 269.6,234.2 286.4,231.1 305.4,221.1 321.8,228.5 333.9,232 345.1,232.8 354.6,234.5 358.1,237.1" fill="none" stroke="#1a1a1a" stroke-width="1.0" stroke-dasharray="2.5,1.6" stroke-linejoin="round"/><path d="M195.7,244l1.75,3h-3.5z" fill="#000"/><path d="M204.9,237.1l1.75,3h-3.5z" fill="#000"/><path d="M214.4,237.9l1.75,3h-3.5z" fill="#000"/><path d="M225.6,238.8l1.75,3h-3.5z" fill="#000"/><path d="M238.5,239.3l1.75,3h-3.5z" fill="#000"/><path d="M254.1,238.8l1.75,3h-3.5z" fill="#000"/><path d="M269.6,232.4l1.75,3h-3.5z" fill="#000"/><path d="M286.4,229.3l1.75,3h-3.5z" fill="#000"/><path d="M305.4,219.3l1.75,3h-3.5z" fill="#000"/><path d="M321.8,226.7l1.75,3h-3.5z" fill="#000"/><path d="M333.9,230.2l1.75,3h-3.5z" fill="#000"/><path d="M345.1,231l1.75,3h-3.5z" fill="#000"/><path d="M354.6,232.7l1.75,3h-3.5z" fill="#000"/><path d="M358.1,235.3l1.75,3h-3.5z" fill="#000"/><polyline points="376.8,229.5 386.2,247.9 395.1,245.8 407,243.6 420.4,241.4 435.2,240.2 451.5,239.6 467.8,245.3 486.6,241.4 502.9,254.7 514,256.1 526.8,256.4 535.3,256.4 539.6,256.7" fill="none" stroke="#999" stroke-width="0.75" stroke-linejoin="round"/><rect x="375.3" y="228" width="3" height="3" rx="0.3" fill="#fff" stroke="#888" stroke-width="0.6"/><rect x="384.7" y="246.4" width="3" height="3" rx="0.3" fill="#fff" stroke="#888" stroke-width="0.6"/><rect x="393.6" y="244.3" width="3" height="3" rx="0.3" fill="#fff" stroke="#888" stroke-width="0.6"/><rect x="405.5" y="242.1" width="3" height="3" rx="0.3" fill="#fff" stroke="#888" stroke-width="0.6"/><rect x="418.9" y="239.9" width="3" height="3" rx="0.3" fill="#fff" stroke="#888" stroke-width="0.6"/><rect x="433.7" y="238.7" width="3" height="3" rx="0.3" fill="#fff" stroke="#888" stroke-width="0.6"/><rect x="450" y="238.1" width="3" height="3" rx="0.3" fill="#fff" stroke="#888" stroke-width="0.6"/><rect x="466.3" y="243.8" width="3" height="3" rx="0.3" fill="#fff" stroke="#888" stroke-width="0.6"/><rect x="485.1" y="239.9" width="3" height="3" rx="0.3" fill="#fff" stroke="#888" stroke-width="0.6"/><rect x="501.4" y="253.2" width="3" height="3" rx="0.3" fill="#fff" stroke="#888" stroke-width="0.6"/><rect x="512.5" y="254.6" width="3" height="3" rx="0.3" fill="#fff" stroke="#888" stroke-width="0.6"/><rect x="525.3" y="254.9" width="3" height="3" rx="0.3" fill="#fff" stroke="#888" stroke-width="0.6"/><rect x="533.8" y="254.9" width="3" height="3" rx="0.3" fill="#fff" stroke="#888" stroke-width="0.6"/><rect x="538.1" y="255.2" width="3" height="3" rx="0.3" fill="#fff" stroke="#888" stroke-width="0.6"/><polyline points="377,148.6 379.4,241 386.2,229.4 395.9,236.6 407,243.1 420.7,248.2 435.2,252.8 451.5,258 467.8,260.7 486.6,264.8 502.9,264.8 514,264.8 526.8,264.8 535.3,264.1 539.6,264.8" fill="none" stroke="#444" stroke-width="1.0" stroke-linejoin="round"/><path d="M377,146.9l1.7,1.7l-1.7,1.7l-1.7,-1.7z" fill="#fff" stroke="#999" stroke-width="0.55"/><path d="M379.4,239.3l1.7,1.7l-1.7,1.7l-1.7,-1.7z" fill="#fff" stroke="#999" stroke-width="0.55"/><path d="M386.2,227.7l1.7,1.7l-1.7,1.7l-1.7,-1.7z" fill="#fff" stroke="#999" stroke-width="0.55"/><path d="M395.9,234.9l1.7,1.7l-1.7,1.7l-1.7,-1.7z" fill="#fff" stroke="#999" stroke-width="0.55"/><path d="M407,241.4l1.7,1.7l-1.7,1.7l-1.7,-1.7z" fill="#fff" stroke="#999" stroke-width="0.55"/><path d="M420.7,246.5l1.7,1.7l-1.7,1.7l-1.7,-1.7z" fill="#fff" stroke="#999" stroke-width="0.55"/><path d="M435.2,251.1l1.7,1.7l-1.7,1.7l-1.7,-1.7z" fill="#fff" stroke="#999" stroke-width="0.55"/><path d="M451.5,256.3l1.7,1.7l-1.7,1.7l-1.7,-1.7z" fill="#fff" stroke="#999" stroke-width="0.55"/><path d="M467.8,259l1.7,1.7l-1.7,1.7l-1.7,-1.7z" fill="#fff" stroke="#999" stroke-width="0.55"/><path d="M486.6,263.1l1.7,1.7l-1.7,1.7l-1.7,-1.7z" fill="#fff" stroke="#999" stroke-width="0.55"/><path d="M502.9,263.1l1.7,1.7l-1.7,1.7l-1.7,-1.7z" fill="#fff" stroke="#999" stroke-width="0.55"/><path d="M514,263.1l1.7,1.7l-1.7,1.7l-1.7,-1.7z" fill="#fff" stroke="#999" stroke-width="0.55"/><path d="M526.8,263.1l1.7,1.7l-1.7,1.7l-1.7,-1.7z" fill="#fff" stroke="#999" stroke-width="0.55"/><path d="M535.3,262.4l1.7,1.7l-1.7,1.7l-1.7,-1.7z" fill="#fff" stroke="#999" stroke-width="0.55"/><path d="M539.6,263.1l1.7,1.7l-1.7,1.7l-1.7,-1.7z" fill="#fff" stroke="#999" stroke-width="0.55"/><polyline points="376.6,281.1 378.2,241.6 386.2,256.1 395.9,256.6 407,254.6 420.4,252.9 435.2,251.2 451.5,250 467.8,249 486.6,247.8 502.9,247.6 514,251.6 526.8,253.6 535.3,256.1 539.6,259.4" fill="none" stroke="#555" stroke-width="0.9" stroke-dasharray="2.5,1.6" stroke-linejoin="round"/><path d="M375.3,279.8l2.6,2.6M375.3,282.4l2.6,-2.6" stroke="#000" stroke-width="0.95"/><path d="M376.9,240.3l2.6,2.6M376.9,242.9l2.6,-2.6" stroke="#000" stroke-width="0.95"/><path d="M384.9,254.8l2.6,2.6M384.9,257.4l2.6,-2.6" stroke="#000" stroke-width="0.95"/><path d="M394.6,255.3l2.6,2.6M394.6,257.9l2.6,-2.6" stroke="#000" stroke-width="0.95"/><path d="M405.7,253.3l2.6,2.6M405.7,255.9l2.6,-2.6" stroke="#000" stroke-width="0.95"/><path d="M419.1,251.6l2.6,2.6M419.1,254.2l2.6,-2.6" stroke="#000" stroke-width="0.95"/><path d="M433.9,249.9l2.6,2.6M433.9,252.5l2.6,-2.6" stroke="#000" stroke-width="0.95"/><path d="M450.2,248.7l2.6,2.6M450.2,251.3l2.6,-2.6" stroke="#000" stroke-width="0.95"/><path d="M466.5,247.7l2.6,2.6M466.5,250.3l2.6,-2.6" stroke="#000" stroke-width="0.95"/><path d="M485.3,246.5l2.6,2.6M485.3,249.1l2.6,-2.6" stroke="#000" stroke-width="0.95"/><path d="M501.6,246.3l2.6,2.6M501.6,248.9l2.6,-2.6" stroke="#000" stroke-width="0.95"/><path d="M512.7,250.3l2.6,2.6M512.7,252.9l2.6,-2.6" stroke="#000" stroke-width="0.95"/><path d="M525.5,252.3l2.6,2.6M525.5,254.9l2.6,-2.6" stroke="#000" stroke-width="0.95"/><path d="M534,254.8l2.6,2.6M534,257.4l2.6,-2.6" stroke="#000" stroke-width="0.95"/><path d="M538.3,258.1l2.6,2.6M538.3,260.7l2.6,-2.6" stroke="#000" stroke-width="0.95"/><polyline points="377,245 386.2,250.4 395.1,250.4 407,249.4 420.4,248.7 435.2,246.5 451.5,246.5 467.8,249.4 486.6,248.2 502.9,247 514,251.1 526.8,253.3 535.3,255.9 539.6,259.3" fill="none" stroke="#222" stroke-width="0.95" stroke-dasharray="2.5,1.6" stroke-linejoin="round"/><path d="M377,243.3l0.6,1.1l1.1,0.6l-1.1,0.6l-0.6,1.1l-0.6,-1.1l-1.1,-0.6l1.1,-0.6z" fill="#000"/><path d="M386.2,248.7l0.6,1.1l1.1,0.6l-1.1,0.6l-0.6,1.1l-0.6,-1.1l-1.1,-0.6l1.1,-0.6z" fill="#000"/><path d="M395.1,248.7l0.6,1.1l1.1,0.6l-1.1,0.6l-0.6,1.1l-0.6,-1.1l-1.1,-0.6l1.1,-0.6z" fill="#000"/><path d="M407,247.7l0.6,1.1l1.1,0.6l-1.1,0.6l-0.6,1.1l-0.6,-1.1l-1.1,-0.6l1.1,-0.6z" fill="#000"/><path d="M420.4,247l0.6,1.1l1.1,0.6l-1.1,0.6l-0.6,1.1l-0.6,-1.1l-1.1,-0.6l1.1,-0.6z" fill="#000"/><path d="M435.2,244.8l0.6,1.1l1.1,0.6l-1.1,0.6l-0.6,1.1l-0.6,-1.1l-1.1,-0.6l1.1,-0.6z" fill="#000"/><path d="M451.5,244.8l0.6,1.1l1.1,0.6l-1.1,0.6l-0.6,1.1l-0.6,-1.1l-1.1,-0.6l1.1,-0.6z" fill="#000"/><path d="M467.8,247.7l0.6,1.1l1.1,0.6l-1.1,0.6l-0.6,1.1l-0.6,-1.1l-1.1,-0.6l1.1,-0.6z" fill="#000"/><path d="M486.6,246.5l0.6,1.1l1.1,0.6l-1.1,0.6l-0.6,1.1l-0.6,-1.1l-1.1,-0.6l1.1,-0.6z" fill="#000"/><path d="M502.9,245.3l0.6,1.1l1.1,0.6l-1.1,0.6l-0.6,1.1l-0.6,-1.1l-1.1,-0.6l1.1,-0.6z" fill="#000"/><path d="M514,249.4l0.6,1.1l1.1,0.6l-1.1,0.6l-0.6,1.1l-0.6,-1.1l-1.1,-0.6l1.1,-0.6z" fill="#000"/><path d="M526.8,251.6l0.6,1.1l1.1,0.6l-1.1,0.6l-0.6,1.1l-0.6,-1.1l-1.1,-0.6l1.1,-0.6z" fill="#000"/><path d="M535.3,254.2l0.6,1.1l1.1,0.6l-1.1,0.6l-0.6,1.1l-0.6,-1.1l-1.1,-0.6l1.1,-0.6z" fill="#000"/><path d="M539.6,257.6l0.6,1.1l1.1,0.6l-1.1,0.6l-0.6,1.1l-0.6,-1.1l-1.1,-0.6l1.1,-0.6z" fill="#000"/><polyline points="379.7,256.8 386.2,259.3 395.9,258 407,255 420.4,249 435.2,246 451.5,243.1 467.8,248.2 486.6,245.6 502.9,257.3 514,257.3 526.8,257.3 535.3,258.5 539.6,260.2" fill="none" stroke="#1a1a1a" stroke-width="1.0" stroke-dasharray="2.5,1.6" stroke-linejoin="round"/><path d="M379.7,255l1.75,3h-3.5z" fill="#000"/><path d="M386.2,257.5l1.75,3h-3.5z" fill="#000"/><path d="M395.9,256.2l1.75,3h-3.5z" fill="#000"/><path d="M407,253.2l1.75,3h-3.5z" fill="#000"/><path d="M420.4,247.2l1.75,3h-3.5z" fill="#000"/><path d="M435.2,244.2l1.75,3h-3.5z" fill="#000"/><path d="M451.5,241.3l1.75,3h-3.5z" fill="#000"/><path d="M467.8,246.4l1.75,3h-3.5z" fill="#000"/><path d="M486.6,243.8l1.75,3h-3.5z" fill="#000"/><path d="M502.9,255.5l1.75,3h-3.5z" fill="#000"/><path d="M514,255.5l1.75,3h-3.5z" fill="#000"/><path d="M526.8,255.5l1.75,3h-3.5z" fill="#000"/><path d="M535.3,256.7l1.75,3h-3.5z" fill="#000"/><path d="M539.6,258.4l1.75,3h-3.5z" fill="#000"/>
<line x1="400" y1="191.6" x2="428.2" y2="191.6" stroke="#222" stroke-width="0.95" stroke-dasharray="2.5,1.6"/><path d="M414.5,189.9l0.6,1.1l1.1,0.6l-1.1,0.6l-0.6,1.1l-0.6,-1.1l-1.1,-0.6l1.1,-0.6z" fill="#000"/><text x="433.8" y="193.9" class="lg">uncorrected DLM</text><line x1="400" y1="199.4" x2="428.2" y2="199.4" stroke="#999" stroke-width="0.75"/><rect x="412.8" y="197.7" width="3.4" height="3.4" rx="0.9" fill="#eee" stroke="#999" stroke-width="0.6"/><text x="433.8" y="201.7" class="lg">diagnonal correction</text><line x1="400" y1="207.2" x2="428.2" y2="207.2" stroke="#555" stroke-width="0.9" stroke-dasharray="2.5,1.6"/><path d="M413.2,205.9l2.6,2.6M413.2,208.5l2.6,-2.6" stroke="#000" stroke-width="0.95"/><text x="433.8" y="209.5" class="lg">ECFT correction</text><line x1="400" y1="215.0" x2="428.2" y2="215.0" stroke="#8a8a8a" stroke-width="1.4"/><path d="M414.5,213.3l1.7,1.7l-1.7,1.7l-1.7,-1.7z" fill="#fff" stroke="#999" stroke-width="0.55"/><text x="433.8" y="217.3" class="lg">correction method in this paper</text><line x1="400" y1="222.7" x2="428.2" y2="222.7" stroke="#1a1a1a" stroke-width="1.0" stroke-dasharray="2.5,1.6"/><path d="M414.5,220.9l1.75,3h-3.5z" fill="#000"/><text x="433.8" y="225" class="lg">unsteady CFD</text>
<text x="13.8" y="142.3" class="tk">0</text><text x="46.36" y="142.3" class="tk">0.2</text><text x="78.92" y="142.3" class="tk">0.4</text><text x="111.48" y="142.3" class="tk">0.6</text><text x="144.04" y="142.3" class="tk">0.8</text><text x="176.6" y="142.3" class="tk">1</text><text x="92.1" y="144.3" class="xc">x/c</text><text transform="translate(8.6,71.6) rotate(-90)" class="dcp">ΔCp</text><text x="195.5" y="142.3" class="tk">0</text><text x="228.06" y="142.3" class="tk">0.2</text><text x="260.62" y="142.3" class="tk">0.4</text><text x="293.18" y="142.3" class="tk">0.6</text><text x="325.74" y="142.3" class="tk">0.8</text><text x="358.3" y="142.3" class="tk">1</text><text x="273.8" y="144.3" class="xc">x/c</text><text transform="translate(190.3,71.6) rotate(-90)" class="dcp">ΔCp</text><text x="376.7" y="142.3" class="tk">0</text><text x="409.26" y="142.3" class="tk">0.2</text><text x="441.82" y="142.3" class="tk">0.4</text><text x="474.38" y="142.3" class="tk">0.6</text><text x="506.94" y="142.3" class="tk">0.8</text><text x="539.5" y="142.3" class="tk">1</text><text x="455" y="144.3" class="xc">x/c</text><text transform="translate(371.5,71.6) rotate(-90)" class="dcp">ΔCp</text><text x="13.8" y="287.3" class="tk">0</text><text x="46.36" y="287.3" class="tk">0.2</text><text x="78.92" y="287.3" class="tk">0.4</text><text x="111.48" y="287.3" class="tk">0.6</text><text x="144.04" y="287.3" class="tk">0.8</text><text x="176.6" y="287.3" class="tk">1</text><text x="92.1" y="289.3" class="xc">x/c</text><text transform="translate(7.8,216) rotate(-90)" class="dcp">ΔCp</text><text x="195.5" y="287.3" class="tk">0</text><text x="228.06" y="287.3" class="tk">0.2</text><text x="260.62" y="287.3" class="tk">0.4</text><text x="293.18" y="287.3" class="tk">0.6</text><text x="325.74" y="287.3" class="tk">0.8</text><text x="358.3" y="287.3" class="tk">1</text><text x="273.8" y="289.3" class="xc">x/c</text><text transform="translate(189.5,216) rotate(-90)" class="dcp">ΔCp</text><text x="376.7" y="287.3" class="tk">0</text><text x="409.26" y="287.3" class="tk">0.2</text><text x="441.82" y="287.3" class="tk">0.4</text><text x="474.38" y="287.3" class="tk">0.6</text><text x="506.94" y="287.3" class="tk">0.8</text><text x="539.5" y="287.3" class="tk">1</text><text x="455" y="289.3" class="xc">x/c</text><text transform="translate(370.7,216) rotate(-90)" class="dcp">ΔCp</text><text x="143" y="124.6" class="wg">WING</text><text x="143" y="131.7" class="wg">Eta = 0.117</text><text x="324.1" y="124.6" class="wg">WING</text><text x="324.1" y="131.7" class="wg">Eta = 0.241</text><text x="505.3" y="124.6" class="wg">WING</text><text x="505.3" y="131.7" class="wg">Eta = 0.429</text><text x="142.6" y="269.9" class="wg">WING</text><text x="142.6" y="277" class="wg">Eta = 0.602</text><text x="324.1" y="269.9" class="wg">WING</text><text x="324.1" y="277" class="wg">Eta = 0.801</text><text x="505.3" y="153.5" class="wg">WING</text><text x="505.3" y="160.6" class="wg">Eta = 0.951</text>
</svg>
</body></html>
